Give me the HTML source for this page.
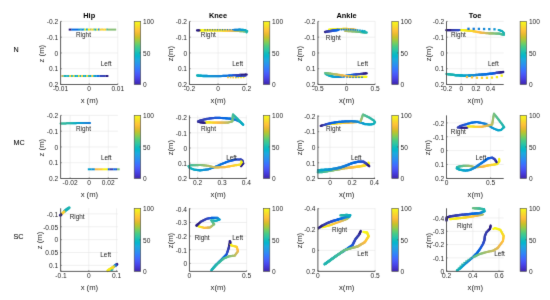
<!DOCTYPE html>
<html><head><meta charset="utf-8"><title>Figure</title>
<style>html,body{margin:0;padding:0;background:#fff;overflow:hidden;width:550px;height:300px;}svg{display:block;}</style>
</head><body>
<svg width="550" height="300" viewBox="0 0 550 300" font-family='"Liberation Sans", Arial, Helvetica, sans-serif'>
<defs><linearGradient id="cbg" x1="0" y1="0" x2="0" y2="1"><stop offset="0.00" stop-color="#f9fb15"/><stop offset="0.05" stop-color="#f5e825"/><stop offset="0.10" stop-color="#fad42e"/><stop offset="0.15" stop-color="#fec13a"/><stop offset="0.20" stop-color="#eaba30"/><stop offset="0.25" stop-color="#c8c129"/><stop offset="0.30" stop-color="#9fc942"/><stop offset="0.35" stop-color="#71cd64"/><stop offset="0.40" stop-color="#48cb86"/><stop offset="0.45" stop-color="#30c5a2"/><stop offset="0.50" stop-color="#12beb9"/><stop offset="0.55" stop-color="#04b6ce"/><stop offset="0.60" stop-color="#1caadf"/><stop offset="0.65" stop-color="#259ce7"/><stop offset="0.70" stop-color="#2d8cf3"/><stop offset="0.75" stop-color="#347afd"/><stop offset="0.80" stop-color="#4367fd"/><stop offset="0.85" stop-color="#4855f6"/><stop offset="0.90" stop-color="#4743e7"/><stop offset="0.95" stop-color="#4433cc"/><stop offset="1.00" stop-color="#3e26a8"/></linearGradient><filter id="soft" x="0" y="0" width="550" height="300" filterUnits="userSpaceOnUse" color-interpolation-filters="sRGB"><feConvolveMatrix order="3" kernelMatrix="1 10 1 10 100 10 1 10 1" edgeMode="duplicate" preserveAlpha="true"/></filter></defs>
<g filter="url(#soft)">
<rect width="550" height="300" fill="#fff"/>
<path d="M60.6 21.4V84.5M89.2 21.4V84.5M117.8 21.4V84.5M60.6 21.4H117.8M60.6 37.17H117.8M60.6 52.95H117.8M60.6 68.73H117.8M60.6 84.5H117.8" stroke="#e6e6e6" stroke-width="0.6" fill="none"/>
<path d="M189.45 21.4V84.5M218.05 21.4V84.5M246.65 21.4V84.5M189.45 21.4H246.65M189.45 37.17H246.65M189.45 52.95H246.65M189.45 68.73H246.65M189.45 84.5H246.65" stroke="#e6e6e6" stroke-width="0.6" fill="none"/>
<path d="M317.9 21.4V84.5M346.5 21.4V84.5M375.1 21.4V84.5M317.9 21.4H375.1M317.9 37.17H375.1M317.9 52.95H375.1M317.9 68.73H375.1M317.9 84.5H375.1" stroke="#e6e6e6" stroke-width="0.6" fill="none"/>
<path d="M446.5 21.4V84.5M461.23 21.4V84.5M475.97 21.4V84.5M490.7 21.4V84.5M446.5 21.4H503.7M446.5 37.17H503.7M446.5 52.95H503.7M446.5 68.73H503.7M446.5 84.5H503.7" stroke="#e6e6e6" stroke-width="0.6" fill="none"/>
<path d="M70.13 115.4V178.5M89.2 115.4V178.5M108.27 115.4V178.5M60.6 115.4H117.8M60.6 131.18H117.8M60.6 146.95H117.8M60.6 162.73H117.8M60.6 178.5H117.8" stroke="#e6e6e6" stroke-width="0.6" fill="none"/>
<path d="M197.7 115.4V178.5M222 115.4V178.5M246.3 115.4V178.5M189.45 117.7H246.65M189.45 132.85H246.65M189.45 148H246.65M189.45 163.15H246.65M189.45 178.3H246.65" stroke="#e6e6e6" stroke-width="0.6" fill="none"/>
<path d="M330 115.4V178.5M352.2 115.4V178.5M374.4 115.4V178.5M317.9 116.2H375.1M317.9 131.72H375.1M317.9 147.25H375.1M317.9 162.78H375.1M317.9 178.3H375.1" stroke="#e6e6e6" stroke-width="0.6" fill="none"/>
<path d="M446.5 115.4V178.5M490.6 115.4V178.5M446.5 122.9H503.7M446.5 136.75H503.7M446.5 150.6H503.7M446.5 164.45H503.7M446.5 178.3H503.7" stroke="#e6e6e6" stroke-width="0.6" fill="none"/>
<path d="M61 208.3V271.4M88.8 208.3V271.4M116.6 208.3V271.4M60.6 213.9H117.8M60.6 226.78H117.8M60.6 239.65H117.8M60.6 252.52H117.8M60.6 265.4H117.8" stroke="#e6e6e6" stroke-width="0.6" fill="none"/>
<path d="M189.45 208.3V271.4M246.65 208.3V271.4M189.45 208.8H246.65M189.45 222.45H246.65M189.45 236.1H246.65M189.45 249.75H246.65M189.45 263.4H246.65" stroke="#e6e6e6" stroke-width="0.6" fill="none"/>
<path d="M317.9 208.3V271.4M375.1 208.3V271.4M317.9 208.7H375.1M317.9 229.53H375.1M317.9 250.37H375.1M317.9 271.2H375.1" stroke="#e6e6e6" stroke-width="0.6" fill="none"/>
<path d="M446.7 208.3V271.4M472.85 208.3V271.4M499 208.3V271.4M446.5 218H503.7M446.5 231.3H503.7M446.5 244.6H503.7M446.5 257.9H503.7M446.5 271.2H503.7" stroke="#e6e6e6" stroke-width="0.6" fill="none"/>
<g stroke-width="2.0" fill="none"><path d="M68.7 29.6h2.9" stroke="#2a1c82"/><path d="M71.5 29.6h6.6" stroke="#036ae1"/><path d="M78 29.6h2.3" stroke="#118cd2"/><path d="M80.2 29.6h1.2" stroke="#0cadbb"/><path d="M81.3 29.6h1.8" stroke="#127cd8"/><path d="M83 29.6h1.6" stroke="#18b1b2"/><path d="M84.5 29.6h1.6" stroke="#f5e31e"/><path d="M86 29.6h1.9" stroke="#06a6c6"/><path d="M87.8 29.6h2.3" stroke="#f5ec18"/><path d="M90 29.6h1.7" stroke="#c3bc5f"/><path d="M91.6 29.6h1.8" stroke="#f5e31e"/><path d="M93.3 29.6h1.7" stroke="#7abf7c"/><path d="M94.9 29.6h1.7" stroke="#18b1b2"/><path d="M96.5 29.6h1.6" stroke="#f5e31e"/><path d="M98 29.6h1.7" stroke="#1484d4"/><path d="M99.6 29.6h1.7" stroke="#f7d826"/><path d="M101.2 29.6h1.7" stroke="#f6ba46"/><path d="M102.8 29.6h2" stroke="#f5e31e"/><path d="M104.7 29.6h1.7" stroke="#fec13a"/><path d="M106.3 29.6h1.7" stroke="#55bd8e"/><path d="M107.9 29.6h8.3" stroke="#88bf77"/></g>
<g stroke-width="2.0" fill="none"><path d="M61.4 76h2.3" stroke="#c3bc5f"/><path d="M63.6 76h3.1" stroke="#18b1b2"/><path d="M66.6 76h1.2" stroke="#06a6c6"/><path d="M67.7 76h1.8" stroke="#18b1b2"/><path d="M69.4 76h1.8" stroke="#f7d826"/><path d="M71.1 76h1.8" stroke="#18b1b2"/><path d="M72.8 76h1.8" stroke="#f7d826"/><path d="M74.5 76h1.8" stroke="#0cadbb"/><path d="M76.2 76h1.8" stroke="#06a6c6"/><path d="M77.9 76h1.8" stroke="#f5e31e"/><path d="M79.6 76h1.8" stroke="#18b1b2"/><path d="M81.3 76h1.8" stroke="#fad12b"/><path d="M83 76h1.8" stroke="#18b1b2"/><path d="M84.7 76h1.8" stroke="#07aac1"/><path d="M86.4 76h1.8" stroke="#f7d826"/><path d="M88.1 76h1.8" stroke="#18b1b2"/><path d="M89.8 76h1.8" stroke="#06a6c6"/><path d="M91.5 76h1.8" stroke="#fad12b"/><path d="M93.2 76h1.8" stroke="#0cadbb"/><path d="M94.9 76h1.8" stroke="#0d93d2"/><path d="M96.6 76h3.1" stroke="#0a72de"/><path d="M99.6 76h6.1" stroke="#3342b7"/><path d="M105.6 76h2.8" stroke="#2a1c82"/></g>
<text x="76" y="37.3" font-size="6.4" fill="#1a1a1a" text-anchor="start">Right</text>
<text x="100.8" y="65.8" font-size="6.4" fill="#1a1a1a" text-anchor="start">Left</text>
<g stroke-width="2.3" stroke-linecap="round" fill="none"><path d="M247 31.4L246 31.34" stroke="#58bd8c"/><path d="M246 31.34L245 31.29" stroke="#60be88"/><path d="M245 31.29L244 31.23" stroke="#67be85"/><path d="M244 31.23L243 31.17" stroke="#6fbf81"/><path d="M243 31.17L242 31.11" stroke="#76bf7e"/><path d="M242 31.11L241 31.06" stroke="#7dbf7b"/><path d="M241 31.06L240 31" stroke="#84bf78"/><path d="M240 31L239 30.96" stroke="#8ebf74"/><path d="M239 30.96L238 30.91" stroke="#9abf6f"/><path d="M238 30.91L237 30.87" stroke="#a5be6b"/><path d="M237 30.87L236 30.83" stroke="#b0bd67"/><path d="M236 30.83L235 30.79" stroke="#babd62"/><path d="M235 30.79L234 30.74" stroke="#c4bc5e"/><path d="M234 30.74L233 30.7" stroke="#cebb5a"/><path d="M233 30.7L232 30.68" stroke="#d8ba56"/><path d="M232 30.68L231 30.65" stroke="#e1b952"/><path d="M231 30.65L230 30.62" stroke="#ebb94d"/><path d="M230 30.62L229 30.6" stroke="#f4ba47"/><path d="M229 30.6L228 30.57" stroke="#fbbd40"/><path d="M228 30.57L227 30.55" stroke="#fec239"/><path d="M227 30.55L226 30.52" stroke="#fec833"/><path d="M226 30.52L225 30.5" stroke="#fcce2d"/><path d="M225 30.5L224 30.49" stroke="#fad22a"/><path d="M224 30.49L223 30.48" stroke="#f9d429"/><path d="M223 30.48L222 30.47" stroke="#f8d627"/><path d="M222 30.47L221 30.46" stroke="#f7d826"/><path d="M221 30.46L220 30.45" stroke="#f7db24"/><path d="M220 30.45L219 30.44" stroke="#f6dd22"/><path d="M219 30.44L218 30.43" stroke="#f5df21"/><path d="M218 30.43L217 30.42" stroke="#f5e11f"/><path d="M217 30.42L216 30.41" stroke="#f5e41d"/><path d="M216 30.41L215 30.4" stroke="#f5e61c"/><path d="M215 30.4L214 30.39" stroke="#f5e81a"/><path d="M214 30.39L213 30.38" stroke="#f5e919"/><path d="M213 30.38L212 30.37" stroke="#f5eb18"/><path d="M212 30.37L211 30.36" stroke="#f5ec17"/><path d="M211 30.36L210 30.35" stroke="#f5ee17"/><path d="M210 30.35L209 30.34" stroke="#f6ef16"/><path d="M209 30.34L208 30.33" stroke="#f6f015"/><path d="M208 30.33L207 30.32" stroke="#f6f214"/><path d="M207 30.32L206 30.31" stroke="#f7f313"/><path d="M206 30.31L205 30.3" stroke="#f7f512"/><path d="M205 30.3L204 30.3" stroke="#f7f611"/><path d="M204 30.3L203 30.3" stroke="#f8f710"/><path d="M203 30.3L202 30.3" stroke="#f8f810"/><path d="M202 30.3L201 30.3" stroke="#f8f90f"/><path d="M201 30.3L200 30.3" stroke="#f9f90f"/><path d="M200 30.3L199 30.3" stroke="#f9fa0e"/></g>
<g stroke-width="2.2" stroke-linecap="round" fill="none"><path d="M197 30.4L198.25 30.35" stroke="#2a1c82"/><path d="M198.25 30.35L199.5 30.3" stroke="#2a1c82"/></g>
<g><rect x="204.4" y="29.3" width="1.2" height="1.2" fill="#3342b7"/><rect x="206.9" y="29.28" width="1.2" height="1.2" fill="#2f46bf"/><rect x="209.4" y="29.25" width="1.2" height="1.2" fill="#2b4bc7"/><rect x="211.9" y="29.23" width="1.2" height="1.2" fill="#2450cf"/><rect x="214.4" y="29.2" width="1.2" height="1.2" fill="#1b55d7"/><rect x="216.9" y="29.17" width="1.2" height="1.2" fill="#0b5edf"/><rect x="219.4" y="29.14" width="1.2" height="1.2" fill="#0265e1"/><rect x="221.9" y="29.12" width="1.2" height="1.2" fill="#036ae1"/><rect x="224.4" y="29.09" width="1.2" height="1.2" fill="#076fdf"/><rect x="226.9" y="29.06" width="1.2" height="1.2" fill="#0c74dd"/><rect x="229.4" y="29.03" width="1.2" height="1.2" fill="#1078da"/><rect x="231.9" y="29" width="1.2" height="1.2" fill="#137dd8"/><rect x="234.4" y="29" width="1.2" height="1.2" fill="#1481d6"/><rect x="236.9" y="29" width="1.2" height="1.2" fill="#1485d4"/></g>
<g stroke-width="2.0" stroke-linecap="round" fill="none"><path d="M234 29.7L235 29.68" stroke="#1482d5"/><path d="M235 29.68L236 29.67" stroke="#1485d4"/><path d="M236 29.67L237 29.65" stroke="#1388d3"/><path d="M237 29.65L238 29.63" stroke="#128bd3"/><path d="M238 29.63L239 29.62" stroke="#108ed2"/><path d="M239 29.62L240 29.6" stroke="#0e91d2"/><path d="M240 29.6L241 29.68" stroke="#0b95d2"/><path d="M241 29.68L242 29.76" stroke="#089ad0"/><path d="M242 29.76L243 29.84" stroke="#069ece"/><path d="M243 29.84L244 29.92" stroke="#06a2cc"/><path d="M244 29.92L245 30" stroke="#06a5c8"/><path d="M245 30L246.1 30.6" stroke="#07a9c2"/><path d="M246.1 30.6L247.2 31.2" stroke="#0eaeba"/><path d="M247.2 31.2L246.5 32.5" stroke="#1db3af"/></g>
<g stroke-width="1.6" stroke-linecap="round" fill="none"><path d="M197 75.9L198 75.98" stroke="#12afb7"/><path d="M198 75.98L199 76.05" stroke="#0eaeba"/><path d="M199 76.05L200 76.12" stroke="#0bacbd"/><path d="M200 76.12L201 76.2" stroke="#08abc0"/><path d="M201 76.2L202 76.28" stroke="#07a9c2"/><path d="M202 76.28L203 76.35" stroke="#06a7c5"/><path d="M203 76.35L204 76.42" stroke="#06a6c7"/><path d="M204 76.42L205 76.5" stroke="#06a4ca"/><path d="M205 76.5L206 76.5" stroke="#06a2cb"/><path d="M206 76.5L207 76.5" stroke="#06a1cc"/><path d="M207 76.5L208 76.5" stroke="#06a0cd"/><path d="M208 76.5L209 76.5" stroke="#06a0cd"/><path d="M209 76.5L210 76.5" stroke="#069fce"/><path d="M210 76.5L211 76.5" stroke="#079ecf"/><path d="M211 76.5L212 76.5" stroke="#079dcf"/><path d="M212 76.5L213 76.5" stroke="#079cd0"/><path d="M213 76.5L214 76.5" stroke="#089ad0"/><path d="M214 76.5L215 76.5" stroke="#0899d1"/><path d="M215 76.5L216 76.47" stroke="#0998d1"/><path d="M216 76.47L217 76.44" stroke="#0a96d1"/><path d="M217 76.44L218 76.41" stroke="#0b94d2"/><path d="M218 76.41L219 76.39" stroke="#0d93d2"/><path d="M219 76.39L220 76.36" stroke="#0e91d2"/><path d="M220 76.36L221 76.33" stroke="#108fd2"/><path d="M221 76.33L222 76.3" stroke="#118dd2"/></g>
<g stroke-width="2.1" stroke-linecap="round" fill="none"><path d="M246.8 74.6L245.67 74.65" stroke="#2a1c82"/><path d="M245.67 74.65L244.53 74.7" stroke="#2a1c82"/><path d="M244.53 74.7L243.4 74.75" stroke="#2a1c82"/><path d="M243.4 74.75L242.27 74.8" stroke="#2a1c82"/><path d="M242.27 74.8L241.13 74.85" stroke="#2a1c82"/><path d="M241.13 74.85L240 74.9" stroke="#2a1c82"/><path d="M240 74.9L239 74.97" stroke="#3637a2"/><path d="M239 74.97L238 75.03" stroke="#353ba9"/><path d="M238 75.03L237 75.1" stroke="#343eaf"/><path d="M237 75.1L236 75.17" stroke="#3342b6"/><path d="M236 75.17L235 75.23" stroke="#3045bd"/><path d="M235 75.23L234 75.3" stroke="#2d49c4"/><path d="M234 75.3L233 75.37" stroke="#274ecc"/><path d="M233 75.37L232 75.44" stroke="#1e54d5"/><path d="M232 75.44L231 75.51" stroke="#125adc"/><path d="M231 75.51L230 75.59" stroke="#0860df"/><path d="M230 75.59L229 75.66" stroke="#0364e1"/><path d="M229 75.66L228 75.73" stroke="#0268e1"/><path d="M228 75.73L227 75.8" stroke="#036be0"/><path d="M227 75.8L226 75.83" stroke="#066fdf"/><path d="M226 75.83L225 75.86" stroke="#0972de"/><path d="M225 75.86L224 75.89" stroke="#0c74dd"/><path d="M224 75.89L223 75.91" stroke="#0f77db"/><path d="M223 75.91L222 75.94" stroke="#117ad9"/><path d="M222 75.94L221 75.97" stroke="#127dd8"/><path d="M221 75.97L220 76" stroke="#1480d6"/><path d="M220 76L219 76" stroke="#1482d5"/><path d="M219 76L218 76" stroke="#1483d5"/><path d="M218 76L217 76" stroke="#1484d4"/><path d="M217 76L216 76" stroke="#1486d4"/><path d="M216 76L215 76" stroke="#1487d3"/><path d="M215 76L214 76" stroke="#1388d3"/><path d="M214 76L213 76" stroke="#138ad3"/><path d="M213 76L212 76" stroke="#128bd2"/><path d="M212 76L211 76" stroke="#118dd2"/><path d="M211 76L210 76" stroke="#108fd2"/><path d="M210 76L209 75.97" stroke="#0f90d2"/><path d="M209 75.97L208 75.94" stroke="#0d92d2"/><path d="M208 75.94L207 75.91" stroke="#0c94d2"/><path d="M207 75.91L206 75.89" stroke="#0a96d1"/><path d="M206 75.89L205 75.86" stroke="#0998d1"/><path d="M205 75.86L204 75.83" stroke="#0899d1"/><path d="M204 75.83L203 75.8" stroke="#089bd0"/><path d="M203 75.8L202 75.72" stroke="#079ecf"/><path d="M202 75.72L201 75.63" stroke="#06a2cb"/><path d="M201 75.63L200 75.55" stroke="#06a6c7"/><path d="M200 75.55L199 75.47" stroke="#07a9c3"/><path d="M199 75.47L198 75.38" stroke="#0aacbe"/><path d="M198 75.38L197 75.3" stroke="#10afb8"/></g>
<g><rect x="227.15" y="76.55" width="1.7" height="1.7" fill="#fec13a"/><rect x="229.75" y="76.61" width="1.7" height="1.7" fill="#fec832"/><rect x="232.35" y="76.68" width="1.7" height="1.7" fill="#fbd02c"/><rect x="234.95" y="76.74" width="1.7" height="1.7" fill="#f8d726"/><rect x="237.55" y="76.65" width="1.7" height="1.7" fill="#f6dd22"/><rect x="240.14" y="76.55" width="1.7" height="1.7" fill="#f5e31e"/><rect x="242.74" y="76.45" width="1.7" height="1.7" fill="#f5ea19"/></g>
<g stroke-width="1.2" stroke-linecap="round" fill="none"><path d="M236 76.6L237 76.54" stroke="#0b5edf"/><path d="M237 76.54L238 76.48" stroke="#115bdc"/><path d="M238 76.48L239 76.42" stroke="#1857d8"/><path d="M239 76.42L240 76.36" stroke="#2053d4"/><path d="M240 76.36L241 76.3" stroke="#254fce"/><path d="M241 76.3L242 76.24" stroke="#2a4cc8"/><path d="M242 76.24L243 76.18" stroke="#2d48c3"/><path d="M243 76.18L244 76.12" stroke="#3045bd"/><path d="M244 76.12L245 76.06" stroke="#3342b7"/><path d="M245 76.06L246 76" stroke="#343fb1"/></g>
<text x="200.8" y="37.3" font-size="6.4" fill="#1a1a1a" text-anchor="start">Right</text>
<text x="232.3" y="65.7" font-size="6.4" fill="#1a1a1a" text-anchor="start">Left</text>
<g stroke-width="2.0" stroke-linecap="round" fill="none"><path d="M329 29.6L330 29.53" stroke="#f9fa0e"/><path d="M330 29.53L331 29.45" stroke="#f8f810"/><path d="M331 29.45L332 29.38" stroke="#f7f611"/><path d="M332 29.38L333 29.3" stroke="#f7f412"/><path d="M333 29.3L334 29.23" stroke="#f6f214"/><path d="M334 29.23L335 29.15" stroke="#f6f015"/><path d="M335 29.15L336 29.07" stroke="#f5ef16"/><path d="M336 29.07L337 29" stroke="#f5ed17"/><path d="M337 29L338 28.98" stroke="#f5ea19"/><path d="M338 28.98L339 28.95" stroke="#f5e81a"/><path d="M339 28.95L340 28.93" stroke="#f5e51c"/><path d="M340 28.93L341 28.9" stroke="#f5e31e"/><path d="M341 28.9L342 28.88" stroke="#f5e020"/><path d="M342 28.88L343 28.85" stroke="#f6de22"/><path d="M343 28.85L344 28.82" stroke="#f6db23"/><path d="M344 28.82L345 28.8" stroke="#f7d925"/><path d="M345 28.8L346 28.83" stroke="#f8d627"/><path d="M346 28.83L347 28.87" stroke="#fad32a"/><path d="M347 28.87L348 28.9" stroke="#fbd02c"/><path d="M348 28.9L349 28.93" stroke="#fccc2f"/><path d="M349 28.93L350 28.97" stroke="#fec932"/><path d="M350 28.97L351 29" stroke="#fec635"/><path d="M351 29L352 29.16" stroke="#fec238"/><path d="M352 29.16L353 29.32" stroke="#fdbe3d"/><path d="M353 29.32L354 29.48" stroke="#fabc42"/><path d="M354 29.48L355 29.64" stroke="#f5ba47"/><path d="M355 29.64L356 29.8" stroke="#efb94b"/></g>
<g stroke-width="2.0" stroke-linecap="round" fill="none"><path d="M345 31L346 31.06" stroke="#b6bd64"/><path d="M346 31.06L347 31.11" stroke="#b1bd66"/><path d="M347 31.11L348 31.17" stroke="#acbe68"/><path d="M348 31.17L349 31.23" stroke="#a7be6a"/><path d="M349 31.23L350 31.29" stroke="#a2be6c"/><path d="M350 31.29L351 31.34" stroke="#9dbf6e"/><path d="M351 31.34L352 31.4" stroke="#97bf70"/><path d="M352 31.4L353 31.47" stroke="#92bf72"/><path d="M353 31.47L354 31.54" stroke="#8cbf75"/><path d="M354 31.54L355 31.61" stroke="#87bf77"/><path d="M355 31.61L356 31.69" stroke="#81bf79"/><path d="M356 31.69L357 31.76" stroke="#7bbf7c"/><path d="M357 31.76L358 31.83" stroke="#75bf7f"/><path d="M358 31.83L359 31.9" stroke="#6ebf81"/><path d="M359 31.9L360 32.03" stroke="#67be85"/><path d="M360 32.03L361 32.16" stroke="#5ebe89"/><path d="M361 32.16L362 32.29" stroke="#56bd8d"/><path d="M362 32.29L363 32.41" stroke="#4dbc92"/><path d="M363 32.41L364 32.54" stroke="#45bb96"/><path d="M364 32.54L365 32.67" stroke="#3eba9a"/><path d="M365 32.67L366 32.8" stroke="#36b99f"/></g>
<g><rect x="336.15" y="28.85" width="1.7" height="1.7" fill="#0267e1"/><rect x="338.45" y="28.79" width="1.7" height="1.7" fill="#046ce0"/><rect x="340.75" y="28.74" width="1.7" height="1.7" fill="#0871de"/><rect x="343.05" y="28.68" width="1.7" height="1.7" fill="#0d75dc"/><rect x="345.35" y="28.67" width="1.7" height="1.7" fill="#117ada"/><rect x="347.65" y="28.7" width="1.7" height="1.7" fill="#137fd7"/><rect x="349.95" y="28.73" width="1.7" height="1.7" fill="#1483d4"/><rect x="352.24" y="28.84" width="1.7" height="1.7" fill="#1389d3"/><rect x="354.53" y="29.04" width="1.7" height="1.7" fill="#108fd2"/><rect x="356.83" y="29.24" width="1.7" height="1.7" fill="#0b95d1"/><rect x="359.11" y="29.48" width="1.7" height="1.7" fill="#079bd0"/><rect x="361.39" y="29.78" width="1.7" height="1.7" fill="#06a0cd"/><rect x="363.67" y="30.09" width="1.7" height="1.7" fill="#06a4ca"/></g>
<g stroke-width="2.5" stroke-linecap="round" fill="none"><path d="M325.1 31.9L326.4 31.7" stroke="#2a1c82"/><path d="M326.4 31.7L327.7 31.5" stroke="#3638a3"/><path d="M327.7 31.5L329 31.3" stroke="#353cab"/><path d="M329 31.3L330 31.12" stroke="#3440b3"/><path d="M330 31.12L331 30.95" stroke="#3144bb"/><path d="M331 30.95L332 30.78" stroke="#2d49c3"/><path d="M332 30.78L333 30.6" stroke="#274dcb"/><path d="M333 30.6L334 30.48" stroke="#2152d3"/><path d="M334 30.48L335 30.36" stroke="#1957d8"/><path d="M335 30.36L336 30.24" stroke="#105bdd"/><path d="M336 30.24L337 30.12" stroke="#0a5fdf"/><path d="M337 30.12L338 30" stroke="#0462e1"/></g>
<g stroke-width="2.2" stroke-linecap="round" fill="none"><path d="M362 31.4L363 31.53" stroke="#09abbf"/><path d="M363 31.53L364 31.67" stroke="#0cadbb"/><path d="M364 31.67L365 31.8" stroke="#11afb8"/><path d="M365 31.8L366.8 32.6" stroke="#1db3af"/></g>
<g stroke-width="2.2" stroke-linecap="round" fill="none"><path d="M366.8 73.3L365.67 73.42" stroke="#2a1c82"/><path d="M365.67 73.42L364.53 73.53" stroke="#2a1c82"/><path d="M364.53 73.53L363.4 73.65" stroke="#2a1c82"/><path d="M363.4 73.65L362.27 73.77" stroke="#2a1c82"/><path d="M362.27 73.77L361.13 73.88" stroke="#36369f"/><path d="M361.13 73.88L360 74" stroke="#3638a4"/><path d="M360 74L359 74.11" stroke="#353caa"/><path d="M359 74.11L358 74.23" stroke="#343fb1"/><path d="M358 74.23L357 74.34" stroke="#3243b8"/><path d="M357 74.34L356 74.46" stroke="#2f46bf"/><path d="M356 74.46L355 74.57" stroke="#2c4ac6"/><path d="M355 74.57L354 74.69" stroke="#264ecd"/><path d="M354 74.69L353 74.8" stroke="#1f53d4"/><path d="M353 74.8L352 74.94" stroke="#1658da"/><path d="M352 74.94L351 75.09" stroke="#0c5dde"/><path d="M351 75.09L350 75.23" stroke="#0462e0"/><path d="M350 75.23L349 75.37" stroke="#0266e1"/><path d="M349 75.37L348 75.51" stroke="#0269e1"/><path d="M348 75.51L347 75.66" stroke="#046ce0"/><path d="M347 75.66L346 75.8" stroke="#066edf"/><path d="M346 75.8L345 75.97" stroke="#0971de"/><path d="M345 75.97L344 76.13" stroke="#0d75dc"/><path d="M344 76.13L343 76.3" stroke="#0f78db"/><path d="M343 76.3L342 76.47" stroke="#127bd9"/><path d="M342 76.47L341 76.63" stroke="#137fd7"/><path d="M341 76.63L340 76.8" stroke="#1482d5"/><path d="M340 76.8L339 76.8" stroke="#1485d4"/><path d="M339 76.8L338 76.8" stroke="#1388d3"/><path d="M338 76.8L337 76.8" stroke="#118cd2"/><path d="M337 76.8L336 76.8" stroke="#0f90d2"/><path d="M336 76.8L335 76.8" stroke="#0c93d2"/><path d="M335 76.8L334 76.8" stroke="#0a97d1"/><path d="M334 76.8L333 76.56" stroke="#079bd0"/><path d="M333 76.56L332 76.32" stroke="#069fce"/><path d="M332 76.32L331 76.08" stroke="#06a3cb"/><path d="M331 76.08L330 75.84" stroke="#06a6c7"/><path d="M330 75.84L329 75.6" stroke="#07a9c3"/><path d="M329 75.6L327.83 75.07" stroke="#0aacbe"/><path d="M327.83 75.07L326.67 74.53" stroke="#12afb7"/><path d="M326.67 74.53L325.5 74" stroke="#1cb3b0"/></g>
<g stroke-width="2.2" stroke-linecap="round" fill="none"><path d="M325 73L326 73.12" stroke="#5abd8b"/><path d="M326 73.12L327 73.24" stroke="#64be86"/><path d="M327 73.24L328 73.36" stroke="#6fbf81"/><path d="M328 73.36L329 73.48" stroke="#79bf7d"/><path d="M329 73.48L330 73.6" stroke="#83bf79"/><path d="M330 73.6L331 73.73" stroke="#8cbf75"/><path d="M331 73.73L332 73.87" stroke="#95bf71"/><path d="M332 73.87L333 74" stroke="#9dbe6e"/><path d="M333 74L334 74.13" stroke="#a5be6b"/><path d="M334 74.13L335 74.27" stroke="#adbe68"/><path d="M335 74.27L336 74.4" stroke="#b4bd65"/><path d="M336 74.4L337 74.57" stroke="#bcbd62"/><path d="M337 74.57L338 74.73" stroke="#c3bc5f"/><path d="M338 74.73L339 74.9" stroke="#cabb5c"/><path d="M339 74.9L340 75.07" stroke="#d1bb59"/><path d="M340 75.07L341 75.23" stroke="#d8ba56"/><path d="M341 75.23L342 75.4" stroke="#dfba53"/><path d="M342 75.4L343 75.57" stroke="#e5b950"/><path d="M343 75.57L344 75.73" stroke="#ebb94d"/><path d="M344 75.73L345 75.9" stroke="#f1b94a"/><path d="M345 75.9L346 76.07" stroke="#f6ba46"/><path d="M346 76.07L347 76.23" stroke="#fbbc41"/><path d="M347 76.23L348 76.4" stroke="#febf3c"/><path d="M348 76.4L349 76.48" stroke="#ffc238"/><path d="M349 76.48L350 76.55" stroke="#fec535"/><path d="M350 76.55L351 76.62" stroke="#fec833"/><path d="M351 76.62L352 76.7" stroke="#fdcb30"/><path d="M352 76.7L353 76.78" stroke="#fcce2e"/><path d="M353 76.78L354 76.85" stroke="#fbd12b"/><path d="M354 76.85L355 76.92" stroke="#f9d429"/><path d="M355 76.92L356 77" stroke="#f8d727"/><path d="M356 77L357.05 76.98" stroke="#f7d925"/><path d="M357.05 76.98L358.1 76.96" stroke="#f6dc23"/><path d="M358.1 76.96L359.15 76.94" stroke="#f5df20"/><path d="M359.15 76.94L360.2 76.92" stroke="#f5e21e"/><path d="M360.2 76.92L361.25 76.9" stroke="#f5e61c"/><path d="M361.25 76.9L362.3 76.88" stroke="#f5e919"/><path d="M362.3 76.88L363.35 76.86" stroke="#f5ed17"/><path d="M363.35 76.86L364.4 76.84" stroke="#f6f115"/><path d="M364.4 76.84L365.45 76.82" stroke="#f7f512"/><path d="M365.45 76.82L366.5 76.8" stroke="#f8f90f"/></g>
<g><rect x="343.3" y="76.3" width="1.4" height="1.4" fill="#127cd8"/><rect x="346.3" y="76.45" width="1.4" height="1.4" fill="#1078da"/><rect x="349.29" y="76.6" width="1.4" height="1.4" fill="#0d75dc"/><rect x="352.29" y="76.69" width="1.4" height="1.4" fill="#0971de"/><rect x="355.29" y="76.67" width="1.4" height="1.4" fill="#066fdf"/><rect x="358.29" y="76.64" width="1.4" height="1.4" fill="#046ce0"/><rect x="361.29" y="76.62" width="1.4" height="1.4" fill="#0269e1"/></g>
<text x="325.8" y="40.3" font-size="6.4" fill="#1a1a1a" text-anchor="start">Right</text>
<text x="357.3" y="65.7" font-size="6.4" fill="#1a1a1a" text-anchor="start">Left</text>
<g stroke-width="2.2" stroke-linecap="round" fill="none"><path d="M504 34.8L503 34.56" stroke="#2cb6a5"/><path d="M503 34.56L502 34.32" stroke="#35b89f"/><path d="M502 34.32L501 34.08" stroke="#3fba99"/><path d="M501 34.08L500 33.84" stroke="#4abc93"/><path d="M500 33.84L499 33.6" stroke="#56bd8d"/><path d="M499 33.6L498 33.58" stroke="#60be88"/><path d="M498 33.58L497 33.56" stroke="#67be85"/><path d="M497 33.56L496 33.53" stroke="#6fbf81"/><path d="M496 33.53L495 33.51" stroke="#76bf7e"/><path d="M495 33.51L494 33.49" stroke="#7dbf7b"/><path d="M494 33.49L493 33.47" stroke="#84bf78"/><path d="M493 33.47L492 33.44" stroke="#8bbf75"/><path d="M492 33.44L491 33.42" stroke="#92bf73"/><path d="M491 33.42L490 33.4" stroke="#98bf70"/><path d="M490 33.4L489 33.32" stroke="#a1be6d"/><path d="M489 33.32L488 33.25" stroke="#acbe68"/><path d="M488 33.25L487 33.17" stroke="#b6bd64"/><path d="M487 33.17L486 33.1" stroke="#c1bc60"/><path d="M486 33.1L485 33.02" stroke="#cbbb5c"/><path d="M485 33.02L484 32.95" stroke="#d4bb58"/><path d="M484 32.95L483 32.88" stroke="#deba53"/><path d="M483 32.88L482 32.8" stroke="#e8b94f"/><path d="M482 32.8L481 32.62" stroke="#efb94b"/><path d="M481 32.62L480 32.44" stroke="#f4ba48"/><path d="M480 32.44L479 32.26" stroke="#f8ba44"/><path d="M479 32.26L478 32.08" stroke="#fbbd40"/><path d="M478 32.08L477 31.9" stroke="#febf3c"/><path d="M477 31.9L476 31.72" stroke="#ffc238"/><path d="M476 31.72L475 31.54" stroke="#fec635"/><path d="M475 31.54L474 31.36" stroke="#fec932"/><path d="M474 31.36L473 31.18" stroke="#fccc2f"/><path d="M473 31.18L472 31" stroke="#fbd02c"/><path d="M472 31L471 30.9" stroke="#fad32a"/><path d="M471 30.9L470 30.8" stroke="#f8d628"/><path d="M470 30.8L469 30.7" stroke="#f7d925"/><path d="M469 30.7L468 30.6" stroke="#f6dc23"/><path d="M468 30.6L467 30.5" stroke="#f5df21"/><path d="M467 30.5L466 30.4" stroke="#f5e21e"/><path d="M466 30.4L465 30.3" stroke="#f5e61c"/><path d="M465 30.3L464 30.24" stroke="#f5e919"/><path d="M464 30.24L463 30.18" stroke="#f5ed17"/><path d="M463 30.18L462 30.12" stroke="#f6f115"/><path d="M462 30.12L461 30.06" stroke="#f7f512"/><path d="M461 30.06L460 30" stroke="#f8f90f"/></g>
<g stroke-width="2.2" stroke-linecap="round" fill="none"><path d="M446.2 30.2L447.36 30.2" stroke="#2a1c82"/><path d="M447.36 30.2L448.52 30.2" stroke="#2a1c82"/><path d="M448.52 30.2L449.68 30.2" stroke="#2a1c82"/><path d="M449.68 30.2L450.84 30.2" stroke="#2a1c82"/><path d="M450.84 30.2L452 30.2" stroke="#2a1c82"/><path d="M452 30.2L453.07 30.17" stroke="#3637a1"/><path d="M453.07 30.17L454.14 30.14" stroke="#363aa7"/><path d="M454.14 30.14L455.21 30.11" stroke="#353dad"/><path d="M455.21 30.11L456.29 30.09" stroke="#3440b3"/><path d="M456.29 30.09L457.36 30.06" stroke="#3243b9"/><path d="M457.36 30.06L458.43 30.03" stroke="#3046be"/><path d="M458.43 30.03L459.5 30" stroke="#2d49c4"/></g>
<g><rect x="467.35" y="27.65" width="2.3" height="2.3" fill="#0a72de"/><rect x="472.55" y="27.7" width="2.3" height="2.3" fill="#1079da"/><rect x="477.75" y="27.74" width="2.3" height="2.3" fill="#1480d6"/><rect x="482.95" y="27.86" width="2.3" height="2.3" fill="#1485d4"/><rect x="488.15" y="28.01" width="2.3" height="2.3" fill="#128cd2"/><rect x="493.34" y="28.15" width="2.3" height="2.3" fill="#0d93d2"/></g>
<g stroke-width="2.0" stroke-linecap="round" fill="none"><path d="M498.5 30L499.67 30.33" stroke="#06a5c9"/><path d="M499.67 30.33L500.83 30.67" stroke="#06a8c4"/><path d="M500.83 30.67L502 31" stroke="#09acbe"/><path d="M502 31L503 32" stroke="#10afb9"/><path d="M503 32L504 33" stroke="#18b1b2"/><path d="M504 33L504 34.5" stroke="#22b4ac"/></g>
<g stroke-width="2.4" stroke-linecap="round" fill="none"><path d="M503.2 72L502.16 72.12" stroke="#2a1c82"/><path d="M502.16 72.12L501.12 72.24" stroke="#2a1c82"/><path d="M501.12 72.24L500.08 72.36" stroke="#2a1c82"/><path d="M500.08 72.36L499.04 72.48" stroke="#2a1c82"/><path d="M499.04 72.48L498 72.6" stroke="#3638a3"/><path d="M498 72.6L497 72.77" stroke="#353cac"/><path d="M497 72.77L496 72.93" stroke="#3342b7"/><path d="M496 72.93L495 73.1" stroke="#2e48c2"/><path d="M495 73.1L494 73.27" stroke="#264ecd"/><path d="M494 73.27L493 73.43" stroke="#1b55d7"/><path d="M493 73.43L492 73.6" stroke="#0d5dde"/><path d="M492 73.6L491 73.7" stroke="#0661e0"/><path d="M491 73.7L490 73.8" stroke="#0364e1"/><path d="M490 73.8L489 73.9" stroke="#0266e1"/><path d="M489 73.9L488 74" stroke="#0268e1"/><path d="M488 74L487 74.1" stroke="#036ae1"/><path d="M487 74.1L486 74.2" stroke="#046ce0"/><path d="M486 74.2L485 74.28" stroke="#066edf"/><path d="M485 74.28L484 74.36" stroke="#0870df"/><path d="M484 74.36L483 74.44" stroke="#0a72de"/><path d="M483 74.44L482 74.52" stroke="#0c74dd"/><path d="M482 74.52L481 74.6" stroke="#0e76dc"/><path d="M481 74.6L480 74.68" stroke="#1078da"/><path d="M480 74.68L479 74.76" stroke="#117ad9"/><path d="M479 74.76L478 74.84" stroke="#127cd8"/><path d="M478 74.84L477 74.92" stroke="#137ed7"/><path d="M477 74.92L476 75" stroke="#1480d6"/><path d="M476 75L475 75.08" stroke="#1482d5"/><path d="M475 75.08L474 75.16" stroke="#1485d4"/><path d="M474 75.16L473 75.24" stroke="#1388d3"/><path d="M473 75.24L472 75.32" stroke="#128bd3"/><path d="M472 75.32L471 75.4" stroke="#108ed2"/><path d="M471 75.4L470 75.48" stroke="#0e91d2"/><path d="M470 75.48L469 75.56" stroke="#0c94d2"/><path d="M469 75.56L468 75.64" stroke="#0997d1"/><path d="M468 75.64L467 75.72" stroke="#089ad0"/><path d="M467 75.72L466 75.8" stroke="#079dcf"/><path d="M466 75.8L465 75.74" stroke="#069fce"/><path d="M465 75.74L464 75.68" stroke="#06a1cc"/><path d="M464 75.68L463 75.62" stroke="#06a3cb"/><path d="M463 75.62L462 75.56" stroke="#06a4c9"/><path d="M462 75.56L461 75.5" stroke="#06a6c7"/><path d="M461 75.5L460 75.44" stroke="#06a7c5"/><path d="M460 75.44L459 75.38" stroke="#07a9c3"/><path d="M459 75.38L458 75.32" stroke="#07aac1"/><path d="M458 75.32L457 75.26" stroke="#09abbf"/><path d="M457 75.26L456 75.2" stroke="#0bacbd"/><path d="M456 75.2L454.94 75.07" stroke="#0daebb"/><path d="M454.94 75.07L453.89 74.93" stroke="#10afb9"/><path d="M453.89 74.93L452.83 74.8" stroke="#12b0b6"/><path d="M452.83 74.8L451.78 74.67" stroke="#15b1b4"/><path d="M451.78 74.67L450.72 74.53" stroke="#18b1b2"/><path d="M450.72 74.53L449.67 74.4" stroke="#1bb2b0"/><path d="M449.67 74.4L448.61 74.27" stroke="#1eb3ae"/><path d="M448.61 74.27L447.56 74.13" stroke="#22b4ac"/><path d="M447.56 74.13L446.5 74" stroke="#25b5a9"/></g>
<g><rect x="465.85" y="75.85" width="2.3" height="2.3" fill="#f6ba46"/><rect x="470.84" y="76.21" width="2.3" height="2.3" fill="#fec03b"/><rect x="475.82" y="76.58" width="2.3" height="2.3" fill="#fec932"/><rect x="480.82" y="76.65" width="2.3" height="2.3" fill="#fad12b"/><rect x="485.82" y="76.65" width="2.3" height="2.3" fill="#f7da24"/><rect x="490.81" y="76.45" width="2.3" height="2.3" fill="#f5e31e"/><rect x="495.79" y="75.96" width="2.3" height="2.3" fill="#f5ee16"/><rect x="500.54" y="74.51" width="2.3" height="2.3" fill="#f8f710"/></g>
<text x="450.9" y="37.3" font-size="6.4" fill="#1a1a1a" text-anchor="start">Right</text>
<text x="488" y="65.7" font-size="6.4" fill="#1a1a1a" text-anchor="start">Left</text>
<g stroke-width="2.0" stroke-linecap="round" fill="none"><path d="M60.5 123.5L61.56 123.48" stroke="#3eba9a"/><path d="M61.56 123.48L62.61 123.46" stroke="#3bb99c"/><path d="M62.61 123.46L63.67 123.43" stroke="#38b99e"/><path d="M63.67 123.43L64.72 123.41" stroke="#35b89f"/><path d="M64.72 123.41L65.78 123.39" stroke="#33b8a1"/><path d="M65.78 123.39L66.83 123.37" stroke="#30b7a3"/><path d="M66.83 123.37L67.89 123.34" stroke="#2db7a4"/><path d="M67.89 123.34L68.94 123.32" stroke="#2bb6a6"/><path d="M68.94 123.32L70 123.3" stroke="#28b6a7"/><path d="M70 123.3L71 123.27" stroke="#24b5aa"/><path d="M71 123.27L72 123.25" stroke="#1db3af"/><path d="M72 123.25L73 123.22" stroke="#18b1b3"/><path d="M73 123.22L74 123.2" stroke="#12afb7"/><path d="M74 123.2L75 123.17" stroke="#0daeba"/><path d="M75 123.17L76 123.15" stroke="#0aacbe"/><path d="M76 123.15L77 123.12" stroke="#07aac1"/><path d="M77 123.12L78 123.1" stroke="#06a8c5"/><path d="M78 123.1L79 123.08" stroke="#06a5c8"/><path d="M79 123.08L80 123.07" stroke="#06a2cc"/><path d="M80 123.07L81 123.05" stroke="#079ecf"/><path d="M81 123.05L82 123.03" stroke="#0899d1"/><path d="M82 123.03L83 123.02" stroke="#0c94d2"/><path d="M83 123.02L84 123" stroke="#108fd2"/><path d="M84 123L85.02 122.98" stroke="#128bd3"/><path d="M85.02 122.98L86.03 122.97" stroke="#1388d3"/><path d="M86.03 122.97L87.05 122.95" stroke="#1485d4"/><path d="M87.05 122.95L88.07 122.93" stroke="#1482d5"/><path d="M88.07 122.93L89.08 122.92" stroke="#1480d6"/><path d="M89.08 122.92L90.1 122.9" stroke="#137dd8"/></g>
<g stroke-width="2.0" fill="none"><path d="M87.8 169.3h3.6" stroke="#06a0cd"/><path d="M91.3 169.3h3.6" stroke="#118cd2"/><path d="M94.8 169.3h4.1" stroke="#f6ba46"/><path d="M98.8 169.3h4.1" stroke="#fdcb30"/><path d="M102.8 169.3h5.1" stroke="#f6f115"/><path d="M107.8 169.3h1.6" stroke="#036ae1"/><path d="M109.3 169.3h4.1" stroke="#353eaf"/><path d="M113.3 169.3h2.6" stroke="#036ae1"/><path d="M115.8 169.3h1.3" stroke="#2b4bc7"/><path d="M117 169.3h2.7" stroke="#7abf7c"/></g>
<text x="76" y="131.3" font-size="6.4" fill="#1a1a1a" text-anchor="start">Right</text>
<text x="100.9" y="159.8" font-size="6.4" fill="#1a1a1a" text-anchor="start">Left</text>
<g stroke-width="2.2" stroke-linecap="round" fill="none"><path d="M205.5 122.9L204.38 122.78" stroke="#2a1c82"/><path d="M204.38 122.78L203.25 122.65" stroke="#2a1c82"/><path d="M203.25 122.65L202.12 122.53" stroke="#2a1c82"/><path d="M202.12 122.53L201 122.4" stroke="#2a1c82"/><path d="M201 122.4L200 122.13" stroke="#2a1c82"/><path d="M200 122.13L199 121.87" stroke="#2a1c82"/><path d="M199 121.87L198 121.6" stroke="#2a1c82"/><path d="M198 121.6L199 121.1" stroke="#3637a0"/><path d="M199 121.1L200 120.6" stroke="#3639a5"/><path d="M200 120.6L201 120.34" stroke="#353ba8"/><path d="M201 120.34L202 120.08" stroke="#353cab"/><path d="M202 120.08L203 119.82" stroke="#353eaf"/><path d="M203 119.82L204 119.56" stroke="#343fb2"/><path d="M204 119.56L205 119.3" stroke="#3341b5"/><path d="M205 119.3L206 119.12" stroke="#3243b8"/><path d="M206 119.12L207 118.94" stroke="#3145bc"/><path d="M207 118.94L208 118.76" stroke="#2f46bf"/><path d="M208 118.76L209 118.58" stroke="#2e48c2"/><path d="M209 118.58L210 118.4" stroke="#2c4ac6"/><path d="M210 118.4L211 118.3" stroke="#2a4cc9"/><path d="M211 118.3L212 118.2" stroke="#274dcb"/><path d="M212 118.2L213 118.1" stroke="#254fce"/><path d="M213 118.1L214 118" stroke="#2351d1"/><path d="M214 118L215 117.9" stroke="#2053d4"/><path d="M215 117.9L216 117.8" stroke="#1d54d6"/><path d="M216 117.8L217 117.84" stroke="#1956d8"/><path d="M217 117.84L218 117.88" stroke="#1559da"/><path d="M218 117.88L219 117.91" stroke="#115bdc"/><path d="M219 117.91L220 117.95" stroke="#0e5dde"/><path d="M220 117.95L221 117.99" stroke="#0b5edf"/><path d="M221 117.99L222 118.02" stroke="#0860e0"/><path d="M222 118.02L223 118.06" stroke="#0562e0"/><path d="M223 118.06L224 118.1" stroke="#0363e1"/><path d="M224 118.1L225 118.2" stroke="#0265e1"/><path d="M225 118.2L226 118.3" stroke="#0267e1"/><path d="M226 118.3L227 118.4" stroke="#0269e1"/><path d="M227 118.4L228 118.5" stroke="#036ae1"/><path d="M228 118.5L229 118.6" stroke="#046ce0"/><path d="M229 118.6L230 118.7" stroke="#056de0"/><path d="M230 118.7L231 118.8" stroke="#066fdf"/><path d="M231 118.8L232 119.02" stroke="#0871de"/><path d="M232 119.02L233 119.24" stroke="#0b74dd"/><path d="M233 119.24L234 119.46" stroke="#0e76dc"/><path d="M234 119.46L235 119.68" stroke="#1078da"/><path d="M235 119.68L236 119.9" stroke="#117bd9"/><path d="M236 119.9L237 120.38" stroke="#137ed7"/><path d="M237 120.38L238 120.85" stroke="#1482d5"/><path d="M238 120.85L239 121.33" stroke="#1486d4"/><path d="M239 121.33L240 121.8" stroke="#138ad3"/><path d="M240 121.8L240.8 122.55" stroke="#0f90d2"/><path d="M240.8 122.55L241.6 123.3" stroke="#0998d1"/><path d="M241.6 123.3L242.4 124.05" stroke="#069fce"/><path d="M242.4 124.05L243.2 124.8" stroke="#06a4c9"/><path d="M243.2 124.8L242.46 124.04" stroke="#06a7c5"/><path d="M242.46 124.04L241.71 123.29" stroke="#07a9c2"/><path d="M241.71 123.29L240.97 122.53" stroke="#08abc0"/><path d="M240.97 122.53L240.23 121.77" stroke="#0bacbd"/><path d="M240.23 121.77L239.49 121.01" stroke="#0eaeba"/><path d="M239.49 121.01L238.74 120.26" stroke="#12afb7"/><path d="M238.74 120.26L238 119.5" stroke="#16b1b4"/><path d="M238 119.5L237.29 118.79" stroke="#1ab2b1"/><path d="M237.29 118.79L236.57 118.07" stroke="#1db3af"/><path d="M236.57 118.07L235.86 117.36" stroke="#21b4ac"/><path d="M235.86 117.36L235.14 116.64" stroke="#24b5aa"/><path d="M235.14 116.64L234.43 115.93" stroke="#28b6a7"/><path d="M234.43 115.93L233.71 115.21" stroke="#2cb7a5"/><path d="M233.71 115.21L233 114.5" stroke="#31b8a2"/><path d="M233 114.5L232.87 115.67" stroke="#38b99e"/><path d="M232.87 115.67L232.73 116.83" stroke="#43bb97"/><path d="M232.73 116.83L232.6 118" stroke="#4fbc91"/><path d="M232.6 118L232.53 119.1" stroke="#5cbe8a"/><path d="M232.53 119.1L232.47 120.2" stroke="#6bbf83"/><path d="M232.47 120.2L232.4 121.3" stroke="#7abf7c"/><path d="M232.4 121.3L231.3 121.62" stroke="#89bf76"/><path d="M231.3 121.62L230.2 121.95" stroke="#97bf70"/><path d="M230.2 121.95L229.1 122.27" stroke="#a5be6b"/><path d="M229.1 122.27L228 122.6" stroke="#b2bd66"/><path d="M228 122.6L227 122.61" stroke="#bbbd62"/><path d="M227 122.61L226 122.62" stroke="#c2bc5f"/><path d="M226 122.62L225 122.64" stroke="#c9bc5c"/><path d="M225 122.64L224 122.65" stroke="#d0bb5a"/><path d="M224 122.65L223 122.66" stroke="#d6ba57"/><path d="M223 122.66L222 122.67" stroke="#dcba54"/><path d="M222 122.67L221 122.69" stroke="#e3b951"/><path d="M221 122.69L220 122.7" stroke="#e9b94e"/><path d="M220 122.7L219 122.67" stroke="#efb94b"/><path d="M219 122.67L218 122.65" stroke="#f5ba46"/><path d="M218 122.65L217 122.62" stroke="#fabc42"/><path d="M217 122.62L216 122.6" stroke="#febf3c"/><path d="M216 122.6L215 122.58" stroke="#ffc338"/><path d="M215 122.58L214 122.55" stroke="#fec734"/><path d="M214 122.55L213 122.53" stroke="#fdcb30"/><path d="M213 122.53L212 122.5" stroke="#fbcf2c"/><path d="M212 122.5L210.97 122.48" stroke="#f9d429"/><path d="M210.97 122.48L209.93 122.47" stroke="#f7d826"/><path d="M209.93 122.47L208.9 122.45" stroke="#f6dd22"/><path d="M208.9 122.45L207.87 122.43" stroke="#f5e21e"/><path d="M207.87 122.43L206.83 122.42" stroke="#f5e71b"/><path d="M206.83 122.42L205.8 122.4" stroke="#f5ed17"/></g>
<g stroke-width="1.8" stroke-linecap="round" fill="none"><path d="M202.5 122.3L203.65 122.55" stroke="#2a1c82"/><path d="M203.65 122.55L204.8 122.8" stroke="#2a1c82"/></g>
<g stroke-width="2.1" stroke-linecap="round" fill="none"><path d="M241 166.3L241.77 165.37" stroke="#2a1c82"/><path d="M241.77 165.37L242.53 164.43" stroke="#2a1c82"/><path d="M242.53 164.43L243.3 163.5" stroke="#2a1c82"/><path d="M243.3 163.5L243.03 162.5" stroke="#2a1c82"/><path d="M243.03 162.5L242.77 161.5" stroke="#36369f"/><path d="M242.77 161.5L242.5 160.5" stroke="#3638a4"/><path d="M242.5 160.5L241.6 159.95" stroke="#353cab"/><path d="M241.6 159.95L240.7 159.4" stroke="#3440b3"/><path d="M240.7 159.4L239.62 159.44" stroke="#3243b9"/><path d="M239.62 159.44L238.54 159.48" stroke="#3046be"/><path d="M238.54 159.48L237.46 159.52" stroke="#2d49c3"/><path d="M237.46 159.52L236.38 159.56" stroke="#2a4bc8"/><path d="M236.38 159.56L235.3 159.6" stroke="#264ecd"/><path d="M235.3 159.6L234.26 159.87" stroke="#2251d2"/><path d="M234.26 159.87L233.21 160.14" stroke="#1c55d6"/><path d="M233.21 160.14L232.17 160.41" stroke="#1658d9"/><path d="M232.17 160.41L231.13 160.69" stroke="#105bdd"/><path d="M231.13 160.69L230.09 160.96" stroke="#0c5ede"/><path d="M230.09 160.96L229.04 161.23" stroke="#0760e0"/><path d="M229.04 161.23L228 161.5" stroke="#0363e1"/><path d="M228 161.5L227 161.9" stroke="#0265e1"/><path d="M227 161.9L226 162.3" stroke="#0267e1"/><path d="M226 162.3L225 162.7" stroke="#0269e1"/><path d="M225 162.7L224 163.1" stroke="#036ae1"/><path d="M224 163.1L223 163.5" stroke="#046ce0"/><path d="M223 163.5L222 163.9" stroke="#056de0"/><path d="M222 163.9L221 164.3" stroke="#066fdf"/><path d="M221 164.3L220 164.75" stroke="#0871de"/><path d="M220 164.75L219 165.2" stroke="#0b73dd"/><path d="M219 165.2L218 165.65" stroke="#0d75dc"/><path d="M218 165.65L217 166.1" stroke="#0f77db"/><path d="M217 166.1L216 166.55" stroke="#1079da"/><path d="M216 166.55L215 167" stroke="#117bd9"/><path d="M215 167L214 167.34" stroke="#137dd8"/><path d="M214 167.34L213 167.69" stroke="#137fd7"/><path d="M213 167.69L212 168.03" stroke="#1480d6"/><path d="M212 168.03L211 168.37" stroke="#1482d5"/><path d="M211 168.37L210 168.71" stroke="#1484d4"/><path d="M210 168.71L209 169.06" stroke="#1486d4"/><path d="M209 169.06L208 169.4" stroke="#1388d3"/><path d="M208 169.4L207 169.53" stroke="#138ad3"/><path d="M207 169.53L206 169.65" stroke="#118cd2"/><path d="M206 169.65L205 169.78" stroke="#108ed2"/><path d="M205 169.78L204 169.9" stroke="#0f90d2"/><path d="M204 169.9L203 170.03" stroke="#0d92d2"/><path d="M203 170.03L202 170.15" stroke="#0c94d2"/><path d="M202 170.15L201 170.28" stroke="#0a96d1"/><path d="M201 170.28L200 170.4" stroke="#0998d1"/><path d="M200 170.4L199 170.27" stroke="#089ad0"/><path d="M199 170.27L198 170.13" stroke="#079dcf"/><path d="M198 170.13L197 170" stroke="#069fce"/><path d="M197 170L196 169.87" stroke="#06a2cc"/><path d="M196 169.87L195 169.73" stroke="#06a4ca"/><path d="M195 169.73L194 169.6" stroke="#06a6c7"/><path d="M194 169.6L192.88 169.15" stroke="#06a8c4"/><path d="M192.88 169.15L191.75 168.7" stroke="#08aac0"/><path d="M191.75 168.7L190.62 168.25" stroke="#0badbc"/><path d="M190.62 168.25L189.5 167.8" stroke="#11afb8"/><path d="M189.5 167.8L188.5 166.2" stroke="#1db3af"/><path d="M188.5 166.2L189.75 165.75" stroke="#2db7a5"/><path d="M189.75 165.75L191 165.3" stroke="#39b99d"/><path d="M191 165.3L192 165.27" stroke="#42bb98"/><path d="M192 165.27L193 165.24" stroke="#48bb95"/><path d="M193 165.24L194 165.21" stroke="#4dbc92"/><path d="M194 165.21L195 165.18" stroke="#53bd8e"/><path d="M195 165.18L196 165.15" stroke="#59bd8b"/><path d="M196 165.15L197 165.12" stroke="#5fbe88"/><path d="M197 165.12L198 165.09" stroke="#65be86"/><path d="M198 165.09L199 165.06" stroke="#6bbf83"/><path d="M199 165.06L200 165.03" stroke="#71bf80"/><path d="M200 165.03L201 165" stroke="#77bf7e"/><path d="M201 165L202 165.11" stroke="#7dbf7b"/><path d="M202 165.11L203 165.23" stroke="#84bf78"/><path d="M203 165.23L204 165.34" stroke="#8bbf75"/><path d="M204 165.34L205 165.46" stroke="#92bf73"/><path d="M205 165.46L206 165.57" stroke="#98bf70"/><path d="M206 165.57L207 165.69" stroke="#9ebe6e"/><path d="M207 165.69L208 165.8" stroke="#a4be6b"/><path d="M208 165.8L209 166.04" stroke="#aabe69"/><path d="M209 166.04L210 166.29" stroke="#b0bd67"/><path d="M210 166.29L211 166.53" stroke="#b5bd64"/><path d="M211 166.53L212 166.77" stroke="#bbbd62"/><path d="M212 166.77L213 167.01" stroke="#c0bc60"/><path d="M213 167.01L214 167.26" stroke="#c6bc5e"/><path d="M214 167.26L215 167.5" stroke="#cbbb5c"/><path d="M215 167.5L216 167.46" stroke="#d0bb5a"/><path d="M216 167.46L217 167.42" stroke="#d4bb58"/><path d="M217 167.42L218 167.38" stroke="#d8ba56"/><path d="M218 167.38L219 167.34" stroke="#dcba54"/><path d="M219 167.34L220 167.3" stroke="#e0ba52"/><path d="M220 167.3L221 167.26" stroke="#e4b950"/><path d="M221 167.26L222 167.22" stroke="#e8b94f"/><path d="M222 167.22L223 167.18" stroke="#ecb94c"/><path d="M223 167.18L224 167.14" stroke="#f0b94a"/><path d="M224 167.14L225 167.1" stroke="#f4ba47"/><path d="M225 167.1L226.03 166.92" stroke="#f8ba44"/><path d="M226.03 166.92L227.06 166.74" stroke="#fabc41"/><path d="M227.06 166.74L228.09 166.56" stroke="#fdbe3e"/><path d="M228.09 166.56L229.12 166.38" stroke="#fec03b"/><path d="M229.12 166.38L230.15 166.2" stroke="#ffc338"/><path d="M230.15 166.2L231.18 166.02" stroke="#fec535"/><path d="M231.18 166.02L232.21 165.84" stroke="#fec832"/><path d="M232.21 165.84L233.24 165.66" stroke="#fdcb30"/><path d="M233.24 165.66L234.27 165.48" stroke="#fccd2e"/><path d="M234.27 165.48L235.3 165.3" stroke="#fbd02c"/><path d="M235.3 165.3L236.48 165.15" stroke="#fad32a"/><path d="M236.48 165.15L237.65 165" stroke="#f8d627"/><path d="M237.65 165L238.82 164.85" stroke="#f7da24"/><path d="M238.82 164.85L240 164.7" stroke="#f6dd22"/><path d="M240 164.7L240.85 163.5" stroke="#f5e31e"/><path d="M240.85 163.5L241.7 162.3" stroke="#f5ec18"/><path d="M241.7 162.3L241.2 161.3" stroke="#f7f611"/></g>
<text x="201" y="131.4" font-size="6.4" fill="#1a1a1a" text-anchor="start">Right</text>
<text x="226.2" y="159.8" font-size="6.4" fill="#1a1a1a" text-anchor="start">Left</text>
<g stroke-width="2.0" stroke-linecap="round" fill="none"><path d="M360.5 121.6L359.4 121.74" stroke="#c6bc5e"/><path d="M359.4 121.74L358.3 121.88" stroke="#ccbb5b"/><path d="M358.3 121.88L357.2 122.02" stroke="#d3bb58"/><path d="M357.2 122.02L356.1 122.16" stroke="#d9ba56"/><path d="M356.1 122.16L355 122.3" stroke="#dfba53"/><path d="M355 122.3L354 122.36" stroke="#e4b950"/><path d="M354 122.36L353 122.41" stroke="#e9b94e"/><path d="M353 122.41L352 122.47" stroke="#edb94c"/><path d="M352 122.47L351 122.53" stroke="#f1b949"/><path d="M351 122.53L350 122.59" stroke="#f5ba46"/><path d="M350 122.59L349 122.64" stroke="#f9bb43"/><path d="M349 122.64L348 122.7" stroke="#fcbd40"/><path d="M348 122.7L347 122.76" stroke="#febf3c"/><path d="M347 122.76L346 122.83" stroke="#fec139"/><path d="M346 122.83L345 122.89" stroke="#ffc437"/><path d="M345 122.89L344 122.95" stroke="#fec634"/><path d="M344 122.95L343 123.01" stroke="#fec932"/><path d="M343 123.01L342 123.08" stroke="#fdcb30"/><path d="M342 123.08L341 123.14" stroke="#fcce2e"/><path d="M341 123.14L340 123.2" stroke="#fbd02c"/><path d="M340 123.2L339 123.28" stroke="#fad22a"/><path d="M339 123.28L338 123.35" stroke="#f9d428"/><path d="M338 123.35L337 123.42" stroke="#f8d727"/><path d="M337 123.42L336 123.5" stroke="#f7d925"/><path d="M336 123.5L335 123.58" stroke="#f6db24"/><path d="M335 123.58L334 123.65" stroke="#f6dd22"/><path d="M334 123.65L333 123.72" stroke="#f5e020"/><path d="M333 123.72L332 123.8" stroke="#f5e21e"/><path d="M332 123.8L331 123.93" stroke="#f5e51d"/><path d="M331 123.93L330 124.07" stroke="#f5e71b"/><path d="M330 124.07L329 124.2" stroke="#f5ea19"/><path d="M329 124.2L328 124.33" stroke="#f5ed17"/><path d="M328 124.33L327 124.47" stroke="#f6f115"/><path d="M327 124.47L326 124.6" stroke="#f7f412"/></g>
<g stroke-width="2.2" stroke-linecap="round" fill="none"><path d="M320.7 125.9L321.76 125.6" stroke="#2a1c82"/><path d="M321.76 125.6L322.82 125.3" stroke="#2a1c82"/><path d="M322.82 125.3L323.88 125" stroke="#3638a3"/><path d="M323.88 125L324.94 124.7" stroke="#353dae"/><path d="M324.94 124.7L326 124.4" stroke="#3243b9"/><path d="M326 124.4L327 124.14" stroke="#2e48c2"/><path d="M327 124.14L328 123.88" stroke="#2a4cc9"/><path d="M328 123.88L329 123.62" stroke="#2450cf"/><path d="M329 123.62L330 123.36" stroke="#1d54d5"/><path d="M330 123.36L331 123.1" stroke="#1559da"/><path d="M331 123.1L332 122.93" stroke="#0d5dde"/><path d="M332 122.93L333 122.77" stroke="#0860df"/><path d="M333 122.77L334 122.6" stroke="#0363e1"/><path d="M334 122.6L335 122.43" stroke="#0265e1"/><path d="M335 122.43L336 122.27" stroke="#0267e1"/><path d="M336 122.27L337 122.1" stroke="#0269e1"/><path d="M337 122.1L338 122.01" stroke="#036be0"/><path d="M338 122.01L339 121.92" stroke="#046ce0"/><path d="M339 121.92L340 121.84" stroke="#056ee0"/><path d="M340 121.84L341 121.75" stroke="#076fdf"/><path d="M341 121.75L342 121.66" stroke="#0870df"/><path d="M342 121.66L343 121.58" stroke="#0972de"/><path d="M343 121.58L344 121.49" stroke="#0b73dd"/><path d="M344 121.49L345 121.4" stroke="#0c74dd"/><path d="M345 121.4L346 121.37" stroke="#0d76dc"/><path d="M346 121.37L347 121.34" stroke="#0e77db"/><path d="M347 121.34L348 121.31" stroke="#1078da"/><path d="M348 121.31L349 121.29" stroke="#117ada"/><path d="M349 121.29L350 121.26" stroke="#117bd9"/><path d="M350 121.26L351 121.23" stroke="#127cd8"/><path d="M351 121.23L352 121.2" stroke="#137ed7"/><path d="M352 121.2L353 121.28" stroke="#1380d6"/><path d="M353 121.28L354 121.36" stroke="#1482d5"/><path d="M354 121.36L355 121.44" stroke="#1484d4"/><path d="M355 121.44L356 121.52" stroke="#1486d4"/><path d="M356 121.52L357 121.6" stroke="#1388d3"/><path d="M357 121.6L358 121.88" stroke="#128ad3"/><path d="M358 121.88L359 122.15" stroke="#118dd2"/><path d="M359 122.15L360 122.42" stroke="#108fd2"/><path d="M360 122.42L361 122.7" stroke="#0e91d2"/><path d="M361 122.7L362 123.05" stroke="#0b95d2"/><path d="M362 123.05L363 123.4" stroke="#0998d1"/><path d="M363 123.4L364 123.75" stroke="#079cd0"/><path d="M364 123.75L365 124.1" stroke="#069fce"/><path d="M365 124.1L366 124.18" stroke="#06a1cc"/><path d="M366 124.18L367 124.26" stroke="#06a2cb"/><path d="M367 124.26L368 124.34" stroke="#06a4ca"/><path d="M368 124.34L369 124.42" stroke="#06a5c8"/><path d="M369 124.42L370 124.5" stroke="#06a6c7"/><path d="M370 124.5L371.17 124.33" stroke="#06a7c5"/><path d="M371.17 124.33L372.33 124.17" stroke="#07a9c2"/><path d="M372.33 124.17L373.5 124" stroke="#08abc0"/><path d="M373.5 124L374.25 123.1" stroke="#0badbc"/><path d="M374.25 123.1L375 122.2" stroke="#11afb8"/><path d="M375 122.2L374 120.6" stroke="#18b1b2"/><path d="M374 120.6L373 119.96" stroke="#1fb3ae"/><path d="M373 119.96L372 119.32" stroke="#23b4ab"/><path d="M372 119.32L371 118.68" stroke="#27b5a8"/><path d="M371 118.68L370 118.04" stroke="#2cb6a5"/><path d="M370 118.04L369 117.4" stroke="#30b7a2"/><path d="M369 117.4L368 116.93" stroke="#35b89f"/><path d="M368 116.93L367 116.47" stroke="#3bb99c"/><path d="M367 116.47L366 116" stroke="#40ba99"/><path d="M366 116L365 115.53" stroke="#46bb96"/><path d="M365 115.53L364 115.07" stroke="#4cbc93"/><path d="M364 115.07L363 114.6" stroke="#52bd8f"/><path d="M363 114.6L362.6 115.73" stroke="#5cbe8a"/><path d="M362.6 115.73L362.2 116.87" stroke="#6bbf83"/><path d="M362.2 116.87L361.8 118" stroke="#7abf7c"/><path d="M361.8 118L361.4 119.13" stroke="#89bf76"/><path d="M361.4 119.13L361 120.27" stroke="#98bf70"/><path d="M361 120.27L360.6 121.4" stroke="#a6be6a"/></g>
<g stroke-width="2.4" stroke-linecap="round" fill="none"><path d="M317.8 172.2L318.85 172.15" stroke="#1fb4ad"/><path d="M318.85 172.15L319.9 172.1" stroke="#24b5aa"/><path d="M319.9 172.1L320.95 172.05" stroke="#2ab6a6"/><path d="M320.95 172.05L322 172" stroke="#30b7a3"/><path d="M322 172L323 171.84" stroke="#35b89f"/><path d="M323 171.84L324 171.68" stroke="#3ab99c"/><path d="M324 171.68L325 171.52" stroke="#3fba99"/><path d="M325 171.52L326 171.36" stroke="#45bb96"/><path d="M326 171.36L327 171.2" stroke="#4abc93"/><path d="M327 171.2L328 171.03" stroke="#51bc90"/><path d="M328 171.03L329 170.87" stroke="#58bd8c"/><path d="M329 170.87L330 170.7" stroke="#60be88"/><path d="M330 170.7L331 170.53" stroke="#67be85"/><path d="M331 170.53L332 170.37" stroke="#6fbf81"/><path d="M332 170.37L333 170.2" stroke="#76bf7e"/><path d="M333 170.2L334 170.04" stroke="#7ebf7b"/><path d="M334 170.04L335 169.88" stroke="#86bf77"/><path d="M335 169.88L336 169.72" stroke="#8ebf74"/><path d="M336 169.72L337 169.56" stroke="#96bf71"/><path d="M337 169.56L338 169.4" stroke="#9dbe6e"/><path d="M338 169.4L339 169.2" stroke="#a6be6a"/><path d="M339 169.2L340 169" stroke="#afbe67"/><path d="M340 169L341 168.8" stroke="#b8bd63"/><path d="M341 168.8L342 168.6" stroke="#c1bc60"/><path d="M342 168.6L343 168.4" stroke="#c9bb5c"/><path d="M343 168.4L344 168.29" stroke="#d0bb5a"/><path d="M344 168.29L345 168.17" stroke="#d4bb58"/><path d="M345 168.17L346 168.06" stroke="#d9ba56"/><path d="M346 168.06L347 167.94" stroke="#ddba54"/><path d="M347 167.94L348 167.83" stroke="#e1b952"/><path d="M348 167.83L349 167.71" stroke="#e6b950"/><path d="M349 167.71L350 167.6" stroke="#eab94e"/><path d="M350 167.6L351 167.49" stroke="#eeb94b"/><path d="M351 167.49L352 167.37" stroke="#f3b948"/><path d="M352 167.37L353 167.26" stroke="#f7ba45"/><path d="M353 167.26L354 167.14" stroke="#fabc42"/><path d="M354 167.14L355 167.03" stroke="#fdbd3e"/><path d="M355 167.03L356 166.91" stroke="#fec03b"/><path d="M356 166.91L357 166.8" stroke="#ffc338"/><path d="M357 166.8L358 166.64" stroke="#fec535"/><path d="M358 166.64L359 166.48" stroke="#fec832"/><path d="M359 166.48L360 166.32" stroke="#fdcb30"/><path d="M360 166.32L361 166.16" stroke="#fccd2e"/><path d="M361 166.16L362 166" stroke="#fbd02c"/><path d="M362 166L363.17 165.73" stroke="#f9d429"/><path d="M363.17 165.73L364.33 165.47" stroke="#f7d826"/><path d="M364.33 165.47L365.5 165.2" stroke="#f6dd22"/><path d="M365.5 165.2L366.53 164.73" stroke="#f5e21e"/><path d="M366.53 164.73L367.57 164.27" stroke="#f5e71b"/><path d="M367.57 164.27L368.6 163.8" stroke="#f5ed17"/><path d="M368.6 163.8L368.5 162.6" stroke="#f7f611"/></g>
<g stroke-width="2.4" stroke-linecap="round" fill="none"><path d="M369.2 166.2L368.3 165.4" stroke="#2a1c82"/><path d="M368.3 165.4L367.4 164.6" stroke="#2a1c82"/><path d="M367.4 164.6L366.5 163.8" stroke="#2a1c82"/><path d="M366.5 163.8L365.5 163.1" stroke="#3638a4"/><path d="M365.5 163.1L364.5 162.4" stroke="#353eaf"/><path d="M364.5 162.4L363.5 161.7" stroke="#3243b9"/><path d="M363.5 161.7L362.5 161.68" stroke="#2e48c2"/><path d="M362.5 161.68L361.5 161.66" stroke="#2a4cc9"/><path d="M361.5 161.66L360.5 161.64" stroke="#2450cf"/><path d="M360.5 161.64L359.5 161.62" stroke="#1d54d5"/><path d="M359.5 161.62L358.5 161.6" stroke="#1559da"/><path d="M358.5 161.6L357.42 161.87" stroke="#0d5dde"/><path d="M357.42 161.87L356.33 162.13" stroke="#0860df"/><path d="M356.33 162.13L355.25 162.4" stroke="#0363e1"/><path d="M355.25 162.4L354.17 162.67" stroke="#0265e1"/><path d="M354.17 162.67L353.08 162.93" stroke="#0267e1"/><path d="M353.08 162.93L352 163.2" stroke="#0269e1"/><path d="M352 163.2L351 163.6" stroke="#036be0"/><path d="M351 163.6L350 164" stroke="#056de0"/><path d="M350 164L349 164.4" stroke="#066fdf"/><path d="M349 164.4L348 164.8" stroke="#0871de"/><path d="M348 164.8L347 165.2" stroke="#0a72de"/><path d="M347 165.2L346 165.6" stroke="#0c74dd"/><path d="M346 165.6L345 165.93" stroke="#0d76dc"/><path d="M345 165.93L344 166.27" stroke="#0f77db"/><path d="M344 166.27L343 166.6" stroke="#1079da"/><path d="M343 166.6L342 166.93" stroke="#117ad9"/><path d="M342 166.93L341 167.27" stroke="#127cd8"/><path d="M341 167.27L340 167.6" stroke="#137ed7"/><path d="M340 167.6L339 167.8" stroke="#137fd6"/><path d="M339 167.8L338 168" stroke="#1481d6"/><path d="M338 168L337 168.2" stroke="#1483d5"/><path d="M337 168.2L336 168.4" stroke="#1484d4"/><path d="M336 168.4L335 168.6" stroke="#1486d3"/><path d="M335 168.6L334 168.8" stroke="#1388d3"/><path d="M334 168.8L333 168.93" stroke="#128ad3"/><path d="M333 168.93L332 169.07" stroke="#118cd2"/><path d="M332 169.07L331 169.2" stroke="#108ed2"/><path d="M331 169.2L330 169.33" stroke="#0e91d2"/><path d="M330 169.33L329 169.47" stroke="#0d93d2"/><path d="M329 169.47L328 169.6" stroke="#0b95d2"/><path d="M328 169.6L327 169.67" stroke="#0a97d1"/><path d="M327 169.67L326 169.73" stroke="#089ad1"/><path d="M326 169.73L325 169.8" stroke="#079cd0"/><path d="M325 169.8L324 169.87" stroke="#079ecf"/><path d="M324 169.87L323 169.93" stroke="#06a0cd"/><path d="M323 169.93L322 170" stroke="#06a2cc"/><path d="M322 170L321 170.05" stroke="#06a4ca"/><path d="M321 170.05L320 170.1" stroke="#06a6c7"/><path d="M320 170.1L319 170.15" stroke="#06a7c5"/><path d="M319 170.15L318 170.2" stroke="#07a9c2"/></g>
<text x="325.9" y="131.4" font-size="6.4" fill="#1a1a1a" text-anchor="start">Right</text>
<text x="350.9" y="159.8" font-size="6.4" fill="#1a1a1a" text-anchor="start">Left</text>
<g stroke-width="2.1" stroke-linecap="round" fill="none"><path d="M467.4 127.7L466.32 127.7" stroke="#2a1c82"/><path d="M466.32 127.7L465.24 127.7" stroke="#2a1c82"/><path d="M465.24 127.7L464.16 127.7" stroke="#2a1c82"/><path d="M464.16 127.7L463.08 127.7" stroke="#2a1c82"/><path d="M463.08 127.7L462 127.7" stroke="#2a1c82"/><path d="M462 127.7L460.95 127.65" stroke="#2a1c82"/><path d="M460.95 127.65L459.9 127.6" stroke="#2a1c82"/><path d="M459.9 127.6L458.85 127.55" stroke="#3637a0"/><path d="M458.85 127.55L457.8 127.5" stroke="#3639a5"/><path d="M457.8 127.5L458.9 126.75" stroke="#353dad"/><path d="M458.9 126.75L460 126" stroke="#3243b9"/><path d="M460 126L461.08 125.7" stroke="#2e48c1"/><path d="M461.08 125.7L462.16 125.4" stroke="#2c4ac6"/><path d="M462.16 125.4L463.24 125.1" stroke="#274dcb"/><path d="M463.24 125.1L464.32 124.8" stroke="#2350d0"/><path d="M464.32 124.8L465.4 124.5" stroke="#1e54d5"/><path d="M465.4 124.5L466.52 124.16" stroke="#1758d9"/><path d="M466.52 124.16L467.64 123.82" stroke="#0e5cde"/><path d="M467.64 123.82L468.76 123.48" stroke="#0860df"/><path d="M468.76 123.48L469.88 123.14" stroke="#0363e1"/><path d="M469.88 123.14L471 122.8" stroke="#0266e1"/><path d="M471 122.8L472.18 122.64" stroke="#0269e1"/><path d="M472.18 122.64L473.36 122.48" stroke="#036be0"/><path d="M473.36 122.48L474.54 122.32" stroke="#056de0"/><path d="M474.54 122.32L475.72 122.16" stroke="#076fdf"/><path d="M475.72 122.16L476.9 122" stroke="#0971de"/><path d="M476.9 122L477.89 122.21" stroke="#0b73dd"/><path d="M477.89 122.21L478.88 122.42" stroke="#0d75dc"/><path d="M478.88 122.42L479.87 122.63" stroke="#0e76db"/><path d="M479.87 122.63L480.86 122.84" stroke="#0f78db"/><path d="M480.86 122.84L481.84 123.06" stroke="#117ada"/><path d="M481.84 123.06L482.83 123.27" stroke="#127bd9"/><path d="M482.83 123.27L483.82 123.48" stroke="#137dd8"/><path d="M483.82 123.48L484.81 123.69" stroke="#137fd7"/><path d="M484.81 123.69L485.8 123.9" stroke="#1480d6"/><path d="M485.8 123.9L486.75 124.46" stroke="#1482d5"/><path d="M486.75 124.46L487.7 125.03" stroke="#1484d4"/><path d="M487.7 125.03L488.65 125.59" stroke="#1487d3"/><path d="M488.65 125.59L489.6 126.15" stroke="#1389d3"/><path d="M489.6 126.15L490.55 126.71" stroke="#118cd2"/><path d="M490.55 126.71L491.5 127.28" stroke="#108fd2"/><path d="M491.5 127.28L492.45 127.84" stroke="#0e92d2"/><path d="M492.45 127.84L493.4 128.4" stroke="#0c94d2"/><path d="M493.4 128.4L494.55 128.88" stroke="#0998d1"/><path d="M494.55 128.88L495.7 129.35" stroke="#079bd0"/><path d="M495.7 129.35L496.85 129.83" stroke="#069ece"/><path d="M496.85 129.83L498 130.3" stroke="#06a1cc"/><path d="M498 130.3L499 130.2" stroke="#06a4ca"/><path d="M499 130.2L500 130.1" stroke="#06a6c7"/><path d="M500 130.1L501 130" stroke="#06a7c5"/><path d="M501 130L501.8 129.28" stroke="#07a9c2"/><path d="M501.8 129.28L502.6 128.55" stroke="#09abbf"/><path d="M502.6 128.55L503.4 127.82" stroke="#0dadbb"/><path d="M503.4 127.82L504.2 127.1" stroke="#11afb7"/><path d="M504.2 127.1L503.57 126.26" stroke="#15b1b4"/><path d="M503.57 126.26L502.93 125.41" stroke="#1ab2b1"/><path d="M502.93 125.41L502.3 124.57" stroke="#1eb3ae"/><path d="M502.3 124.57L501.67 123.72" stroke="#22b4ab"/><path d="M501.67 123.72L501.03 122.88" stroke="#27b5a8"/><path d="M501.03 122.88L500.4 122.03" stroke="#2cb7a5"/><path d="M500.4 122.03L499.77 121.19" stroke="#31b8a2"/><path d="M499.77 121.19L499.13 120.34" stroke="#37b99e"/><path d="M499.13 120.34L498.5 119.5" stroke="#3dba9b"/><path d="M498.5 119.5L497.86 118.67" stroke="#42bb98"/><path d="M497.86 118.67L497.21 117.84" stroke="#48bb94"/><path d="M497.21 117.84L496.57 117.01" stroke="#4ebc91"/><path d="M496.57 117.01L495.93 116.19" stroke="#55bd8e"/><path d="M495.93 116.19L495.29 115.36" stroke="#5bbd8a"/><path d="M495.29 115.36L494.64 114.53" stroke="#62be87"/><path d="M494.64 114.53L494 113.7" stroke="#68be84"/><path d="M494 113.7L493.8 114.76" stroke="#70bf81"/><path d="M493.8 114.76L493.6 115.82" stroke="#78bf7d"/><path d="M493.6 115.82L493.4 116.88" stroke="#81bf79"/><path d="M493.4 116.88L493.2 117.94" stroke="#89bf76"/><path d="M493.2 117.94L493 119" stroke="#91bf73"/><path d="M493 119L492.84 120.1" stroke="#99bf70"/><path d="M492.84 120.1L492.68 121.2" stroke="#a0be6d"/><path d="M492.68 121.2L492.52 122.3" stroke="#a7be6a"/><path d="M492.52 122.3L492.36 123.4" stroke="#aebe67"/><path d="M492.36 123.4L492.2 124.5" stroke="#b5bd65"/><path d="M492.2 124.5L491.18 124.73" stroke="#bbbd62"/><path d="M491.18 124.73L490.16 124.96" stroke="#c2bc5f"/><path d="M490.16 124.96L489.14 125.19" stroke="#c8bc5d"/><path d="M489.14 125.19L488.12 125.42" stroke="#cfbb5a"/><path d="M488.12 125.42L487.1 125.65" stroke="#d5ba57"/><path d="M487.1 125.65L486.08 125.88" stroke="#dbba55"/><path d="M486.08 125.88L485.06 126.11" stroke="#e1b952"/><path d="M485.06 126.11L484.04 126.34" stroke="#e7b94f"/><path d="M484.04 126.34L483.02 126.57" stroke="#edb94c"/><path d="M483.02 126.57L482 126.8" stroke="#f3ba48"/><path d="M482 126.8L481 126.79" stroke="#f8bb44"/><path d="M481 126.79L480 126.77" stroke="#fcbd3f"/><path d="M480 126.77L479 126.76" stroke="#fec03a"/><path d="M479 126.76L478 126.74" stroke="#ffc436"/><path d="M478 126.74L477 126.73" stroke="#fec833"/><path d="M477 126.73L476 126.71" stroke="#fdcc2f"/><path d="M476 126.71L475 126.7" stroke="#fbcf2c"/><path d="M475 126.7L474 126.66" stroke="#f9d329"/><path d="M474 126.66L473 126.61" stroke="#f8d726"/><path d="M473 126.61L472 126.57" stroke="#f6db23"/><path d="M472 126.57L471 126.53" stroke="#f5df20"/><path d="M471 126.53L470 126.49" stroke="#f5e41d"/><path d="M470 126.49L469 126.44" stroke="#f5e91a"/><path d="M469 126.44L468 126.4" stroke="#f5ee16"/></g>
<g stroke-width="2.2" stroke-linecap="round" fill="none"><path d="M456.8 168.3L457 167.2" stroke="#1ab2b1"/><path d="M457 167.2L458 166.93" stroke="#26b5a9"/><path d="M458 166.93L459 166.67" stroke="#30b7a3"/><path d="M459 166.67L460 166.4" stroke="#3ab99c"/><path d="M460 166.4L461.05 166.25" stroke="#44bb97"/><path d="M461.05 166.25L462.1 166.1" stroke="#4cbc92"/><path d="M462.1 166.1L463.15 165.95" stroke="#56bd8d"/><path d="M463.15 165.95L464.2 165.8" stroke="#5fbe89"/><path d="M464.2 165.8L465.36 165.84" stroke="#69be84"/><path d="M465.36 165.84L466.52 165.88" stroke="#73bf7f"/><path d="M466.52 165.88L467.68 165.92" stroke="#7dbf7b"/><path d="M467.68 165.92L468.84 165.96" stroke="#87bf77"/><path d="M468.84 165.96L470 166" stroke="#90bf73"/><path d="M470 166L471 166.24" stroke="#99bf70"/><path d="M471 166.24L472 166.48" stroke="#a2be6c"/><path d="M472 166.48L473 166.72" stroke="#aabe69"/><path d="M473 166.72L474 166.96" stroke="#b2bd66"/><path d="M474 166.96L475 167.2" stroke="#babd63"/><path d="M475 167.2L476 167.14" stroke="#c1bc60"/><path d="M476 167.14L477 167.09" stroke="#c8bc5d"/><path d="M477 167.09L478 167.03" stroke="#cfbb5a"/><path d="M478 167.03L479 166.97" stroke="#d5ba57"/><path d="M479 166.97L480 166.91" stroke="#dcba54"/><path d="M480 166.91L481 166.86" stroke="#e2b951"/><path d="M481 166.86L482 166.8" stroke="#e9b94e"/><path d="M482 166.8L483.05 166.57" stroke="#efb94b"/><path d="M483.05 166.57L484.1 166.33" stroke="#f5ba47"/><path d="M484.1 166.33L485.15 166.1" stroke="#fabb42"/><path d="M485.15 166.1L486.2 165.87" stroke="#fdbe3d"/><path d="M486.2 165.87L487.25 165.63" stroke="#fec239"/><path d="M487.25 165.63L488.3 165.4" stroke="#fec535"/><path d="M488.3 165.4L489.44 165.24" stroke="#fec932"/><path d="M489.44 165.24L490.58 165.08" stroke="#fccc2f"/><path d="M490.58 165.08L491.72 164.92" stroke="#fbd02c"/><path d="M491.72 164.92L492.86 164.76" stroke="#fad32a"/><path d="M492.86 164.76L494 164.6" stroke="#f8d627"/><path d="M494 164.6L495.1 164.4" stroke="#f7da24"/><path d="M495.1 164.4L496.2 164.2" stroke="#f6dd22"/><path d="M496.2 164.2L497.3 164" stroke="#f5e11f"/><path d="M497.3 164L497.93 163.17" stroke="#f5e51c"/><path d="M497.93 163.17L498.57 162.33" stroke="#f5ea19"/><path d="M498.57 162.33L499.2 161.5" stroke="#f5ee16"/><path d="M499.2 161.5L499.2 160.2" stroke="#f6f313"/><path d="M499.2 160.2L499.2 158.9" stroke="#f8f80f"/></g>
<g stroke-width="2.3" stroke-linecap="round" fill="none"><path d="M496.6 162.1L495.97 161.17" stroke="#2a1c82"/><path d="M495.97 161.17L495.33 160.23" stroke="#2a1c82"/><path d="M495.33 160.23L494.7 159.3" stroke="#3637a1"/><path d="M494.7 159.3L493.87 158.73" stroke="#353cac"/><path d="M493.87 158.73L493.03 158.17" stroke="#3342b7"/><path d="M493.03 158.17L492.2 157.6" stroke="#2e48c2"/><path d="M492.2 157.6L490.9 157.83" stroke="#264ecd"/><path d="M490.9 157.83L489.6 158.07" stroke="#1b55d7"/><path d="M489.6 158.07L488.3 158.3" stroke="#0d5dde"/><path d="M488.3 158.3L487.4 158.93" stroke="#0562e0"/><path d="M487.4 158.93L486.5 159.56" stroke="#0265e1"/><path d="M486.5 159.56L485.6 160.19" stroke="#0268e1"/><path d="M485.6 160.19L484.7 160.81" stroke="#036ae1"/><path d="M484.7 160.81L483.8 161.44" stroke="#046de0"/><path d="M483.8 161.44L482.9 162.07" stroke="#066fdf"/><path d="M482.9 162.07L482 162.7" stroke="#0971de"/><path d="M482 162.7L481.12 163.3" stroke="#0b73dd"/><path d="M481.12 163.3L480.25 163.9" stroke="#0d76dc"/><path d="M480.25 163.9L479.38 164.5" stroke="#0f78db"/><path d="M479.38 164.5L478.5 165.1" stroke="#117ada"/><path d="M478.5 165.1L477.62 165.7" stroke="#127cd8"/><path d="M477.62 165.7L476.75 166.3" stroke="#137ed7"/><path d="M476.75 166.3L475.88 166.9" stroke="#1480d6"/><path d="M475.88 166.9L475 167.5" stroke="#1482d5"/><path d="M475 167.5L474 167.98" stroke="#1485d4"/><path d="M474 167.98L473 168.46" stroke="#1388d3"/><path d="M473 168.46L472 168.94" stroke="#128bd3"/><path d="M472 168.94L471 169.42" stroke="#108ed2"/><path d="M471 169.42L470 169.9" stroke="#0e91d2"/><path d="M470 169.9L468.85 170.07" stroke="#0c94d2"/><path d="M468.85 170.07L467.7 170.25" stroke="#0997d1"/><path d="M467.7 170.25L466.55 170.43" stroke="#089ad0"/><path d="M466.55 170.43L465.4 170.6" stroke="#079dcf"/><path d="M465.4 170.6L464.32 170.44" stroke="#069fce"/><path d="M464.32 170.44L463.24 170.28" stroke="#06a2cc"/><path d="M463.24 170.28L462.16 170.12" stroke="#06a4ca"/><path d="M462.16 170.12L461.08 169.96" stroke="#06a6c7"/><path d="M461.08 169.96L460 169.8" stroke="#06a7c5"/><path d="M460 169.8L458.93 169.37" stroke="#07a9c2"/><path d="M458.93 169.37L457.87 168.93" stroke="#09acbe"/><path d="M457.87 168.93L456.8 168.5" stroke="#0daebb"/></g>
<text x="450.8" y="134.4" font-size="6.4" fill="#1a1a1a" text-anchor="start">Right</text>
<text x="475.6" y="159.8" font-size="6.4" fill="#1a1a1a" text-anchor="start">Left</text>
<g stroke-width="2.8" stroke-linecap="round" fill="none"><path d="M64.2 211.6L64.97 210.93" stroke="#09abbf"/><path d="M64.97 210.93L65.73 210.27" stroke="#0cadbb"/><path d="M65.73 210.27L66.5 209.6" stroke="#11afb8"/><path d="M66.5 209.6L67.43 208.97" stroke="#15b1b4"/><path d="M67.43 208.97L68.37 208.33" stroke="#18b1b2"/><path d="M68.37 208.33L69.3 207.7" stroke="#1bb2b0"/></g>
<g stroke-width="2.6" stroke-linecap="round" fill="none"><path d="M61.6 214L63 212.8" stroke="#f6dd22"/><path d="M63 212.8L64.2 211.6" stroke="#fccc2f"/></g>
<g stroke-width="3.0" stroke-linecap="round" fill="none"><path d="M60.4 215.3L61 214.7" stroke="#2a1c82"/></g>
<g stroke-width="2.8" stroke-linecap="round" fill="none"><path d="M117 264.3L116 265" stroke="#2a1c82"/><path d="M116 265L115 265.7" stroke="#2d49c3"/><path d="M115 265.7L114 266.5" stroke="#0d93d2"/><path d="M114 266.5L113 267.3" stroke="#b8bd63"/><path d="M113 267.3L112 267.93" stroke="#f9d429"/><path d="M112 267.93L111 268.57" stroke="#f7da24"/><path d="M111 268.57L110 269.2" stroke="#f5e020"/><path d="M110 269.2L108.85 269.95" stroke="#f5e61b"/><path d="M108.85 269.95L107.7 270.7" stroke="#f5ed17"/></g>
<g stroke-width="1.2" stroke-linecap="round" fill="none"><path d="M111 270.5L112 270.15" stroke="#18b1b2"/><path d="M112 270.15L113 269.8" stroke="#18b1b2"/></g>
<text x="69.7" y="218.6" font-size="6.4" fill="#1a1a1a" text-anchor="start">Right</text>
<text x="100.3" y="256.9" font-size="6.4" fill="#1a1a1a" text-anchor="start">Left</text>
<g stroke-width="2.1" stroke-linecap="round" fill="none"><path d="M196.7 225.4L197.52 224.66" stroke="#2a1c82"/><path d="M197.52 224.66L198.34 223.92" stroke="#2a1c82"/><path d="M198.34 223.92L199.16 223.18" stroke="#2a1c82"/><path d="M199.16 223.18L199.98 222.44" stroke="#2a1c82"/><path d="M199.98 222.44L200.8 221.7" stroke="#2a1c82"/><path d="M200.8 221.7L201.78 221.21" stroke="#3637a0"/><path d="M201.78 221.21L202.77 220.72" stroke="#3639a5"/><path d="M202.77 220.72L203.75 220.22" stroke="#353ba9"/><path d="M203.75 220.22L204.73 219.73" stroke="#353dad"/><path d="M204.73 219.73L205.72 219.24" stroke="#343fb1"/><path d="M205.72 219.24L206.7 218.75" stroke="#3341b5"/><path d="M206.7 218.75L207.7 218.58" stroke="#3144bb"/><path d="M207.7 218.58L208.7 218.41" stroke="#2d49c3"/><path d="M208.7 218.41L209.7 218.24" stroke="#274dcb"/><path d="M209.7 218.24L210.7 218.07" stroke="#2053d4"/><path d="M210.7 218.07L211.7 217.9" stroke="#1658da"/><path d="M211.7 217.9L212.86 217.9" stroke="#0860e0"/><path d="M212.86 217.9L214.02 217.9" stroke="#0268e1"/><path d="M214.02 217.9L215.18 217.9" stroke="#066edf"/><path d="M215.18 217.9L216.34 217.9" stroke="#0c74dd"/><path d="M216.34 217.9L217.5 217.9" stroke="#1079da"/><path d="M217.5 217.9L218.55 218.75" stroke="#1482d5"/><path d="M218.55 218.75L219.6 219.6" stroke="#0e91d2"/><path d="M219.6 219.6L218.33 220" stroke="#079dcf"/><path d="M218.33 220L217.07 220.4" stroke="#06a5c9"/><path d="M217.07 220.4L215.8 220.8" stroke="#08aac0"/><path d="M215.8 220.8L214.66 220.7" stroke="#0faeb9"/><path d="M214.66 220.7L213.53 220.6" stroke="#15b0b5"/><path d="M213.53 220.6L212.39 220.5" stroke="#1cb2b0"/><path d="M212.39 220.5L211.25 220.4" stroke="#23b5ab"/><path d="M211.25 220.4L211.99 221.35" stroke="#2eb7a4"/><path d="M211.99 221.35L212.72 222.3" stroke="#3eba9a"/><path d="M212.72 222.3L213.46 223.25" stroke="#4fbc91"/><path d="M213.46 223.25L214.2 224.2" stroke="#62be87"/><path d="M214.2 224.2L213.36 224.86" stroke="#76bf7e"/><path d="M213.36 224.86L212.52 225.52" stroke="#89bf76"/><path d="M212.52 225.52L211.68 226.18" stroke="#9bbf6f"/><path d="M211.68 226.18L210.84 226.84" stroke="#acbe68"/><path d="M210.84 226.84L210 227.5" stroke="#bbbd62"/><path d="M210 227.5L208.84 227.58" stroke="#c9bb5c"/><path d="M208.84 227.58L207.68 227.66" stroke="#d6ba57"/><path d="M207.68 227.66L206.52 227.74" stroke="#e2b951"/><path d="M206.52 227.74L205.36 227.82" stroke="#eeb94b"/><path d="M205.36 227.82L204.2 227.9" stroke="#f9bb43"/><path d="M204.2 227.9L203.05 227.6" stroke="#fec238"/><path d="M203.05 227.6L201.9 227.3" stroke="#fdcb30"/><path d="M201.9 227.3L200.75 227" stroke="#f9d429"/><path d="M200.75 227L199.6 226.7" stroke="#f5de21"/><path d="M199.6 226.7L198.55 226.25" stroke="#f5e91a"/><path d="M198.55 226.25L197.5 225.8" stroke="#f7f412"/></g>
<g stroke-width="2.2" stroke-linecap="round" fill="none"><path d="M230.1 241.7L229.87 242.7" stroke="#2a1c82"/><path d="M229.87 242.7L229.64 243.7" stroke="#2a1c82"/><path d="M229.64 243.7L229.41 244.7" stroke="#2a1c82"/><path d="M229.41 244.7L229.19 245.7" stroke="#2a1c82"/><path d="M229.19 245.7L228.96 246.7" stroke="#2a1c82"/><path d="M228.96 246.7L228.73 247.7" stroke="#3636a0"/><path d="M228.73 247.7L228.5 248.7" stroke="#3639a4"/><path d="M228.5 248.7L228.18 249.65" stroke="#353baa"/><path d="M228.18 249.65L227.87 250.6" stroke="#343fb1"/><path d="M227.87 250.6L227.55 251.55" stroke="#3242b7"/><path d="M227.55 251.55L227.23 252.5" stroke="#3046be"/><path d="M227.23 252.5L226.92 253.45" stroke="#2c4ac5"/><path d="M226.92 253.45L226.6 254.4" stroke="#274ecc"/><path d="M226.6 254.4L225.87 255.13" stroke="#1f53d4"/><path d="M225.87 255.13L225.14 255.86" stroke="#1359db"/><path d="M225.14 255.86L224.41 256.59" stroke="#095fdf"/><path d="M224.41 256.59L223.69 257.31" stroke="#0364e1"/><path d="M223.69 257.31L222.96 258.04" stroke="#0268e1"/><path d="M222.96 258.04L222.23 258.77" stroke="#036be0"/><path d="M222.23 258.77L221.5 259.5" stroke="#066edf"/><path d="M221.5 259.5L220.78 260.2" stroke="#0971de"/><path d="M220.78 260.2L220.06 260.9" stroke="#0c74dd"/><path d="M220.06 260.9L219.33 261.6" stroke="#0f77db"/><path d="M219.33 261.6L218.61 262.3" stroke="#117ad9"/><path d="M218.61 262.3L217.89 263" stroke="#137dd8"/><path d="M217.89 263L217.17 263.7" stroke="#1480d6"/><path d="M217.17 263.7L216.44 264.4" stroke="#1483d4"/><path d="M216.44 264.4L215.72 265.1" stroke="#1487d3"/><path d="M215.72 265.1L215 265.8" stroke="#128ad3"/><path d="M215 265.8L214.28 266.68" stroke="#0f90d2"/><path d="M214.28 266.68L213.56 267.56" stroke="#0998d1"/><path d="M213.56 267.56L212.84 268.44" stroke="#069ece"/><path d="M212.84 268.44L212.12 269.32" stroke="#06a3ca"/><path d="M212.12 269.32L211.4 270.2" stroke="#06a8c4"/></g>
<g stroke-width="2.2" stroke-linecap="round" fill="none"><path d="M211.4 270.2L212.1 269.45" stroke="#15b0b5"/><path d="M212.1 269.45L212.8 268.7" stroke="#17b1b3"/><path d="M212.8 268.7L213.5 267.95" stroke="#19b2b1"/><path d="M213.5 267.95L214.2 267.2" stroke="#1cb2b0"/><path d="M214.2 267.2L214.9 266.45" stroke="#1eb3ae"/><path d="M214.9 266.45L215.6 265.7" stroke="#21b4ac"/><path d="M215.6 265.7L216.3 264.95" stroke="#23b5ab"/><path d="M216.3 264.95L217 264.2" stroke="#26b5a9"/><path d="M217 264.2L217.81 263.5" stroke="#29b6a7"/><path d="M217.81 263.5L218.62 262.8" stroke="#2bb6a5"/><path d="M218.62 262.8L219.44 262.1" stroke="#2eb7a4"/><path d="M219.44 262.1L220.25 261.4" stroke="#31b8a2"/><path d="M220.25 261.4L221.06 260.7" stroke="#34b8a0"/><path d="M221.06 260.7L221.88 260" stroke="#37b99e"/><path d="M221.88 260L222.69 259.3" stroke="#3bb99c"/><path d="M222.69 259.3L223.5 258.6" stroke="#3eba9a"/><path d="M223.5 258.6L224.43 258.22" stroke="#44bb97"/><path d="M224.43 258.22L225.37 257.83" stroke="#4dbc92"/><path d="M225.37 257.83L226.3 257.45" stroke="#57bd8c"/><path d="M226.3 257.45L227.23 257.07" stroke="#61be87"/><path d="M227.23 257.07L228.17 256.68" stroke="#6bbf83"/><path d="M228.17 256.68L229.1 256.3" stroke="#75bf7e"/><path d="M229.1 256.3L230.24 256.16" stroke="#80bf7a"/><path d="M230.24 256.16L231.38 256.02" stroke="#8abf76"/><path d="M231.38 256.02L232.52 255.88" stroke="#95bf71"/><path d="M232.52 255.88L233.66 255.74" stroke="#9fbe6d"/><path d="M233.66 255.74L234.8 255.6" stroke="#a8be6a"/><path d="M234.8 255.6L235.44 254.72" stroke="#b2bd65"/><path d="M235.44 254.72L236.08 253.84" stroke="#bebc61"/><path d="M236.08 253.84L236.72 252.96" stroke="#c8bc5d"/><path d="M236.72 252.96L237.36 252.08" stroke="#d3bb58"/><path d="M237.36 252.08L238 251.2" stroke="#ddba54"/><path d="M238 251.2L237.68 250.1" stroke="#e8b94e"/><path d="M237.68 250.1L237.35 249" stroke="#f5ba47"/><path d="M237.35 249L237.02 247.9" stroke="#febe3d"/><path d="M237.02 247.9L236.7 246.8" stroke="#fec734"/><path d="M236.7 246.8L235.68 246.54" stroke="#fccd2e"/><path d="M235.68 246.54L234.66 246.28" stroke="#fad32a"/><path d="M234.66 246.28L233.64 246.02" stroke="#f7d826"/><path d="M233.64 246.02L232.62 245.76" stroke="#f6de22"/><path d="M232.62 245.76L231.6 245.5" stroke="#f5e41d"/><path d="M231.6 245.5L230.95 244.5" stroke="#f5ec18"/><path d="M230.95 244.5L230.3 243.5" stroke="#f7f611"/></g>
<g stroke-width="2.8" stroke-linecap="round" fill="none"><path d="M196.6 225.6L197.4 224.8" stroke="#2a1c82"/></g>
<g stroke-width="2.8" stroke-linecap="round" fill="none"><path d="M229.9 241.4L230.3 242.6" stroke="#2a1c82"/></g>
<text x="194.7" y="240.4" font-size="6.4" fill="#1a1a1a" text-anchor="start">Right</text>
<text x="232.3" y="240.4" font-size="6.4" fill="#1a1a1a" text-anchor="start">Left</text>
<g stroke-width="2.0" stroke-linecap="round" fill="none"><path d="M322.2 227.4L323.18 227.12" stroke="#f8f80f"/><path d="M323.18 227.12L324.15 226.85" stroke="#f6f313"/><path d="M324.15 226.85L325.12 226.57" stroke="#f5ee16"/><path d="M325.12 226.57L326.1 226.3" stroke="#f5ea19"/><path d="M326.1 226.3L327.07 226.03" stroke="#f5e51c"/><path d="M327.07 226.03L328.05 225.75" stroke="#f5e11f"/><path d="M328.05 225.75L329.02 225.47" stroke="#f6dd22"/><path d="M329.02 225.47L330 225.2" stroke="#f7da24"/><path d="M330 225.2L331 224.84" stroke="#f8d627"/><path d="M331 224.84L332 224.48" stroke="#fad32a"/><path d="M332 224.48L333 224.12" stroke="#fbd02c"/><path d="M333 224.12L334 223.76" stroke="#fccc2f"/><path d="M334 223.76L335 223.4" stroke="#fec932"/><path d="M335 223.4L336 223.04" stroke="#fec635"/><path d="M336 223.04L337 222.68" stroke="#ffc238"/><path d="M337 222.68L338 222.32" stroke="#febf3c"/><path d="M338 222.32L339 221.96" stroke="#fbbd40"/><path d="M339 221.96L340 221.6" stroke="#f8ba44"/><path d="M340 221.6L341 221.23" stroke="#f2b949"/><path d="M341 221.23L342 220.86" stroke="#e9b94e"/><path d="M342 220.86L343 220.49" stroke="#e1ba52"/><path d="M343 220.49L344 220.11" stroke="#d8ba56"/><path d="M344 220.11L345 219.74" stroke="#cfbb5a"/><path d="M345 219.74L346 219.37" stroke="#c6bc5e"/><path d="M346 219.37L347 219" stroke="#bdbd61"/><path d="M347 219L347.87 218.27" stroke="#adbe68"/><path d="M347.87 218.27L348.73 217.53" stroke="#95bf71"/><path d="M348.73 217.53L349.6 216.8" stroke="#7abf7c"/></g>
<g stroke-width="2.4" stroke-linecap="round" fill="none"><path d="M318.8 227.8L319.85 227.15" stroke="#2a1c82"/><path d="M319.85 227.15L320.9 226.5" stroke="#2a1c82"/><path d="M320.9 226.5L321.95 225.85" stroke="#2a1c82"/><path d="M321.95 225.85L323 225.2" stroke="#2a1c82"/><path d="M323 225.2L324 224.7" stroke="#3637a0"/><path d="M324 224.7L325 224.2" stroke="#3639a5"/><path d="M325 224.2L326 223.7" stroke="#353ba9"/><path d="M326 223.7L327 223.2" stroke="#353dad"/><path d="M327 223.2L328 222.83" stroke="#343fb1"/><path d="M328 222.83L329 222.47" stroke="#3341b5"/><path d="M329 222.47L330 222.1" stroke="#3243b9"/><path d="M330 222.1L331 221.73" stroke="#3045bd"/><path d="M331 221.73L332 221.37" stroke="#2e47c1"/><path d="M332 221.37L333 221" stroke="#2c4ac5"/><path d="M333 221L334 220.7" stroke="#284dcb"/><path d="M334 220.7L335 220.4" stroke="#2251d1"/><path d="M335 220.4L336 220.1" stroke="#1a56d7"/><path d="M336 220.1L337 219.8" stroke="#115bdc"/><path d="M337 219.8L338 219.5" stroke="#0a5fdf"/><path d="M338 219.5L339 219.2" stroke="#0462e1"/><path d="M339 219.2L340 218.9" stroke="#0266e1"/><path d="M340 218.9L341 218.6" stroke="#036ae1"/><path d="M341 218.6L342 218.3" stroke="#056ee0"/><path d="M342 218.3L343 218" stroke="#0971de"/><path d="M343 218L344 217.7" stroke="#0d75dc"/><path d="M344 217.7L345 217.4" stroke="#0f78db"/><path d="M345 217.4L346.1 217.15" stroke="#137dd8"/><path d="M346.1 217.15L347.2 216.9" stroke="#1484d4"/><path d="M347.2 216.9L348.3 216.65" stroke="#128cd2"/><path d="M348.3 216.65L349.4 216.4" stroke="#0b95d2"/><path d="M349.4 216.4L350.2 215.2" stroke="#06a3cb"/><path d="M350.2 215.2L349.15 215.15" stroke="#08abc0"/><path d="M349.15 215.15L348.1 215.1" stroke="#0bacbd"/><path d="M348.1 215.1L347.05 215.05" stroke="#0eaeba"/><path d="M347.05 215.05L346 215" stroke="#12afb7"/><path d="M346 215L344.88 215.08" stroke="#15b1b4"/><path d="M344.88 215.08L343.76 215.16" stroke="#19b2b2"/><path d="M343.76 215.16L342.64 215.24" stroke="#1db3af"/><path d="M342.64 215.24L341.52 215.32" stroke="#21b4ac"/><path d="M341.52 215.32L340.4 215.4" stroke="#25b5aa"/></g>
<g stroke-width="2.4" stroke-linecap="round" fill="none"><path d="M360.8 231.1L360.35 232.03" stroke="#2a1c82"/><path d="M360.35 232.03L359.9 232.95" stroke="#2a1c82"/><path d="M359.9 232.95L359.45 233.88" stroke="#2a1c82"/><path d="M359.45 233.88L359 234.8" stroke="#2a1c82"/><path d="M359 234.8L358.28 235.68" stroke="#3637a1"/><path d="M358.28 235.68L357.56 236.56" stroke="#3639a6"/><path d="M357.56 236.56L356.84 237.44" stroke="#353cab"/><path d="M356.84 237.44L356.12 238.32" stroke="#343eaf"/><path d="M356.12 238.32L355.4 239.2" stroke="#3341b4"/><path d="M355.4 239.2L354.92 240.18" stroke="#3243b9"/><path d="M354.92 240.18L354.43 241.17" stroke="#3045bd"/><path d="M354.43 241.17L353.95 242.15" stroke="#2e47c1"/><path d="M353.95 242.15L353.47 243.13" stroke="#2c4ac5"/><path d="M353.47 243.13L352.98 244.12" stroke="#294cc9"/><path d="M352.98 244.12L352.5 245.1" stroke="#264fcd"/><path d="M352.5 245.1L351.63 245.7" stroke="#2053d4"/><path d="M351.63 245.7L350.77 246.3" stroke="#1658da"/><path d="M350.77 246.3L349.9 246.9" stroke="#0c5dde"/><path d="M349.9 246.9L349.03 247.5" stroke="#0462e0"/><path d="M349.03 247.5L348.17 248.1" stroke="#0266e1"/><path d="M348.17 248.1L347.3 248.7" stroke="#0269e1"/><path d="M347.3 248.7L346.44 249.25" stroke="#046ce0"/><path d="M346.44 249.25L345.58 249.8" stroke="#066fdf"/><path d="M345.58 249.8L344.73 250.35" stroke="#0972de"/><path d="M344.73 250.35L343.87 250.9" stroke="#0c74dd"/><path d="M343.87 250.9L343.01 251.45" stroke="#0e77db"/><path d="M343.01 251.45L342.15 252" stroke="#117ada"/><path d="M342.15 252L341.29 252.55" stroke="#127cd8"/><path d="M341.29 252.55L340.43 253.1" stroke="#137fd7"/><path d="M340.43 253.1L339.57 253.65" stroke="#1482d5"/><path d="M339.57 253.65L338.72 254.2" stroke="#1484d4"/><path d="M338.72 254.2L337.86 254.75" stroke="#1487d3"/><path d="M337.86 254.75L337 255.3" stroke="#128bd3"/><path d="M337 255.3L336.17 255.89" stroke="#118ed2"/><path d="M336.17 255.89L335.35 256.47" stroke="#0e91d2"/><path d="M335.35 256.47L334.52 257.06" stroke="#0c94d2"/><path d="M334.52 257.06L333.69 257.65" stroke="#0a97d1"/><path d="M333.69 257.65L332.87 258.23" stroke="#0899d1"/><path d="M332.87 258.23L332.04 258.82" stroke="#079cd0"/><path d="M332.04 258.82L331.21 259.41" stroke="#069ece"/><path d="M331.21 259.41L330.39 259.99" stroke="#06a0cd"/><path d="M330.39 259.99L329.56 260.58" stroke="#06a2cb"/><path d="M329.56 260.58L328.73 261.17" stroke="#06a4c9"/><path d="M328.73 261.17L327.91 261.75" stroke="#06a6c7"/><path d="M327.91 261.75L327.08 262.34" stroke="#06a8c4"/><path d="M327.08 262.34L326.25 262.93" stroke="#07a9c2"/><path d="M326.25 262.93L325.43 263.51" stroke="#09abbf"/><path d="M325.43 263.51L324.6 264.1" stroke="#0bacbd"/></g>
<g stroke-width="2.4" stroke-linecap="round" fill="none"><path d="M324.6 264.4L325.47 263.77" stroke="#1eb3ae"/><path d="M325.47 263.77L326.33 263.13" stroke="#1fb4ad"/><path d="M326.33 263.13L327.2 262.5" stroke="#21b4ac"/><path d="M327.2 262.5L328.07 261.87" stroke="#23b4ab"/><path d="M328.07 261.87L328.93 261.23" stroke="#24b5aa"/><path d="M328.93 261.23L329.8 260.6" stroke="#26b5a9"/><path d="M329.8 260.6L330.67 259.97" stroke="#28b6a8"/><path d="M330.67 259.97L331.53 259.33" stroke="#2ab6a6"/><path d="M331.53 259.33L332.4 258.7" stroke="#2cb7a5"/><path d="M332.4 258.7L333.27 258.07" stroke="#2eb7a4"/><path d="M333.27 258.07L334.13 257.43" stroke="#30b7a3"/><path d="M334.13 257.43L335 256.8" stroke="#32b8a1"/><path d="M335 256.8L335.85 256.2" stroke="#34b8a0"/><path d="M335.85 256.2L336.71 255.6" stroke="#38b99e"/><path d="M336.71 255.6L337.56 255" stroke="#3bb99c"/><path d="M337.56 255L338.42 254.4" stroke="#3fba9a"/><path d="M338.42 254.4L339.27 253.8" stroke="#42bb98"/><path d="M339.27 253.8L340.13 253.2" stroke="#46bb95"/><path d="M340.13 253.2L340.98 252.6" stroke="#4abc93"/><path d="M340.98 252.6L341.84 252" stroke="#4ebc91"/><path d="M341.84 252L342.69 251.4" stroke="#52bd8f"/><path d="M342.69 251.4L343.55 250.8" stroke="#56bd8d"/><path d="M343.55 250.8L344.4 250.2" stroke="#5abd8b"/><path d="M344.4 250.2L345.5 249.87" stroke="#60be88"/><path d="M345.5 249.87L346.6 249.53" stroke="#67be85"/><path d="M346.6 249.53L347.7 249.2" stroke="#6fbf81"/><path d="M347.7 249.2L348.8 248.87" stroke="#76bf7e"/><path d="M348.8 248.87L349.9 248.53" stroke="#7dbf7b"/><path d="M349.9 248.53L351 248.2" stroke="#84bf78"/><path d="M351 248.2L352.1 247.92" stroke="#8cbf75"/><path d="M352.1 247.92L353.2 247.63" stroke="#95bf71"/><path d="M353.2 247.63L354.3 247.35" stroke="#9dbe6e"/><path d="M354.3 247.35L355.4 247.07" stroke="#a5be6b"/><path d="M355.4 247.07L356.5 246.78" stroke="#adbe68"/><path d="M356.5 246.78L357.6 246.5" stroke="#b4bd65"/><path d="M357.6 246.5L358.51 245.95" stroke="#bcbd62"/><path d="M358.51 245.95L359.43 245.4" stroke="#c4bc5e"/><path d="M359.43 245.4L360.34 244.85" stroke="#ccbb5b"/><path d="M360.34 244.85L361.25 244.3" stroke="#d4bb58"/><path d="M361.25 244.3L362.16 243.75" stroke="#dcba54"/><path d="M362.16 243.75L363.07 243.2" stroke="#e3b951"/><path d="M363.07 243.2L363.99 242.65" stroke="#ebb94d"/><path d="M363.99 242.65L364.9 242.1" stroke="#f2b949"/><path d="M364.9 242.1L365.52 241.13" stroke="#f9bb43"/><path d="M365.52 241.13L366.13 240.17" stroke="#febf3c"/><path d="M366.13 240.17L366.75 239.2" stroke="#fec536"/><path d="M366.75 239.2L367.37 238.23" stroke="#fdca31"/><path d="M367.37 238.23L367.98 237.27" stroke="#fbd02c"/><path d="M367.98 237.27L368.6 236.3" stroke="#f9d528"/><path d="M368.6 236.3L368.1 235.07" stroke="#f6db24"/><path d="M368.1 235.07L367.6 233.83" stroke="#f5e11f"/><path d="M367.6 233.83L367.1 232.6" stroke="#f5e81a"/><path d="M367.1 232.6L365.9 232.37" stroke="#f5ee16"/><path d="M365.9 232.37L364.7 232.13" stroke="#f6f313"/><path d="M364.7 232.13L363.5 231.9" stroke="#f8f80f"/></g>
<text x="332.1" y="231.5" font-size="6.4" fill="#1a1a1a" text-anchor="start">Right</text>
<text x="357.3" y="256" font-size="6.4" fill="#1a1a1a" text-anchor="start">Left</text>
<g stroke-width="2.2" stroke-linecap="round" fill="none"><path d="M450 219.2L451 219.09" stroke="#f9f90f"/><path d="M451 219.09L452 218.99" stroke="#f8f711"/><path d="M452 218.99L453 218.88" stroke="#f7f412"/><path d="M453 218.88L454 218.77" stroke="#f6f114"/><path d="M454 218.77L455 218.67" stroke="#f6ef16"/><path d="M455 218.67L456 218.56" stroke="#f5ec17"/><path d="M456 218.56L457 218.45" stroke="#f5ea19"/><path d="M457 218.45L458 218.35" stroke="#f5e71b"/><path d="M458 218.35L459 218.24" stroke="#f5e51c"/><path d="M459 218.24L460 218.13" stroke="#f5e31e"/><path d="M460 218.13L461 218.03" stroke="#f5e11f"/><path d="M461 218.03L462 217.92" stroke="#f5df21"/><path d="M462 217.92L463 217.81" stroke="#f6dd22"/><path d="M463 217.81L464 217.71" stroke="#f6db24"/><path d="M464 217.71L465 217.6" stroke="#f7d925"/><path d="M465 217.6L466 217.44" stroke="#f8d727"/><path d="M466 217.44L467 217.28" stroke="#f9d528"/><path d="M467 217.28L468 217.12" stroke="#fad22a"/><path d="M468 217.12L469 216.96" stroke="#fbd02c"/><path d="M469 216.96L470 216.8" stroke="#fcce2e"/><path d="M470 216.8L471 216.64" stroke="#fdcb30"/><path d="M471 216.64L472 216.48" stroke="#fec932"/><path d="M472 216.48L473 216.32" stroke="#fec734"/><path d="M473 216.32L474 216.16" stroke="#ffc436"/><path d="M474 216.16L475 216" stroke="#fec239"/><path d="M475 216L476 215.81" stroke="#fdbe3e"/><path d="M476 215.81L477 215.62" stroke="#f5ba47"/><path d="M477 215.62L478 215.44" stroke="#ebb94d"/><path d="M478 215.44L479 215.25" stroke="#e0ba53"/><path d="M479 215.25L480 215.06" stroke="#d5ba57"/><path d="M480 215.06L481 214.88" stroke="#cabb5c"/><path d="M481 214.88L482 214.69" stroke="#bfbc61"/><path d="M482 214.69L483 214.5" stroke="#b3bd65"/></g>
<g stroke-width="2.4" stroke-linecap="round" fill="none"><path d="M446.5 220.6L446.6 219.57" stroke="#2a1c82"/><path d="M446.6 219.57L446.7 218.53" stroke="#2a1c82"/><path d="M446.7 218.53L446.8 217.5" stroke="#2a1c82"/><path d="M446.8 217.5L447.87 217.13" stroke="#2a1c82"/><path d="M447.87 217.13L448.93 216.77" stroke="#2a1c82"/><path d="M448.93 216.77L450 216.4" stroke="#2a1c82"/><path d="M450 216.4L451 216.26" stroke="#3636a0"/><path d="M451 216.26L452 216.12" stroke="#3638a2"/><path d="M452 216.12L453 215.98" stroke="#3639a5"/><path d="M453 215.98L454 215.84" stroke="#363aa7"/><path d="M454 215.84L455 215.7" stroke="#353ba9"/><path d="M455 215.7L456 215.56" stroke="#353cac"/><path d="M456 215.56L457 215.42" stroke="#353eae"/><path d="M457 215.42L458 215.28" stroke="#343fb1"/><path d="M458 215.28L459 215.14" stroke="#3440b3"/><path d="M459 215.14L460 215" stroke="#3341b6"/><path d="M460 215L461 214.9" stroke="#3243b8"/><path d="M461 214.9L462 214.8" stroke="#3145bc"/><path d="M462 214.8L463 214.7" stroke="#2f46bf"/><path d="M463 214.7L464 214.6" stroke="#2e48c2"/><path d="M464 214.6L465 214.5" stroke="#2c4ac6"/><path d="M465 214.5L466 214.4" stroke="#2a4cc9"/><path d="M466 214.4L467 214.3" stroke="#274ecc"/><path d="M467 214.3L468 214.2" stroke="#2450cf"/><path d="M468 214.2L469 214.1" stroke="#2152d3"/><path d="M469 214.1L470 214" stroke="#1d54d5"/><path d="M470 214L471 213.9" stroke="#1658da"/><path d="M471 213.9L472 213.8" stroke="#0c5dde"/><path d="M472 213.8L473 213.7" stroke="#0462e0"/><path d="M473 213.7L474 213.6" stroke="#0266e1"/><path d="M474 213.6L475 213.5" stroke="#0269e1"/><path d="M475 213.5L476 213.4" stroke="#046ce0"/><path d="M476 213.4L477 213.3" stroke="#066edf"/><path d="M477 213.3L478 213.2" stroke="#0871de"/><path d="M478 213.2L479 213.1" stroke="#0b74dd"/><path d="M479 213.1L480 213" stroke="#0e76dc"/><path d="M480 213L481.12 212.55" stroke="#127bd9"/><path d="M481.12 212.55L482.25 212.1" stroke="#1484d4"/><path d="M482.25 212.1L483.38 211.65" stroke="#108fd2"/><path d="M483.38 211.65L484.5 211.2" stroke="#089ad1"/><path d="M484.5 211.2L484 209.3" stroke="#07aac1"/><path d="M484 209.3L483 209.14" stroke="#20b4ad"/><path d="M483 209.14L482 208.98" stroke="#26b5a9"/><path d="M482 208.98L481 208.82" stroke="#2db7a5"/><path d="M481 208.82L480 208.66" stroke="#34b8a0"/><path d="M480 208.66L479 208.5" stroke="#3cba9c"/><path d="M479 208.5L478 208.43" stroke="#43bb97"/><path d="M478 208.43L477 208.37" stroke="#4abc93"/><path d="M477 208.37L476 208.3" stroke="#51bc90"/><path d="M476 208.3L475 208.23" stroke="#58bd8c"/><path d="M475 208.23L474 208.17" stroke="#60be88"/><path d="M474 208.17L473 208.1" stroke="#67be85"/></g>
<g stroke-width="2.3" stroke-linecap="round" fill="none"><path d="M490.7 225.5L490.43 226.63" stroke="#2a1c82"/><path d="M490.43 226.63L490.17 227.77" stroke="#2a1c82"/><path d="M490.17 227.77L489.9 228.9" stroke="#2a1c82"/><path d="M489.9 228.9L489.02 229.78" stroke="#2a1c82"/><path d="M489.02 229.78L488.15 230.65" stroke="#2a1c82"/><path d="M488.15 230.65L487.27 231.53" stroke="#3637a0"/><path d="M487.27 231.53L486.4 232.4" stroke="#3639a5"/><path d="M486.4 232.4L485.9 233.6" stroke="#353aa8"/><path d="M485.9 233.6L485.4 234.8" stroke="#353cab"/><path d="M485.4 234.8L484.9 236" stroke="#353dad"/><path d="M484.9 236L484.8 237" stroke="#343eb0"/><path d="M484.8 237L484.7 238" stroke="#343fb2"/><path d="M484.7 238L484.6 239" stroke="#3340b4"/><path d="M484.6 239L484.5 240" stroke="#3341b6"/><path d="M484.5 240L484.12 241" stroke="#3243b9"/><path d="M484.12 241L483.75 242" stroke="#3045bd"/><path d="M483.75 242L483.38 243" stroke="#2e47c1"/><path d="M483.38 243L483 244" stroke="#2c4ac5"/><path d="M483 244L482.4 245" stroke="#294cca"/><path d="M482.4 245L481.8 246" stroke="#254fcf"/><path d="M481.8 246L481.2 247" stroke="#2053d4"/><path d="M481.2 247L480.6 248" stroke="#1a56d7"/><path d="M480.6 248L480 249" stroke="#1359db"/><path d="M480 249L479.4 249.8" stroke="#0e5dde"/><path d="M479.4 249.8L478.8 250.6" stroke="#095fdf"/><path d="M478.8 250.6L478.2 251.4" stroke="#0462e0"/><path d="M478.2 251.4L477.6 252.2" stroke="#0364e1"/><path d="M477.6 252.2L477 253" stroke="#0266e1"/><path d="M477 253L476.29 253.71" stroke="#0269e1"/><path d="M476.29 253.71L475.57 254.43" stroke="#036be0"/><path d="M475.57 254.43L474.86 255.14" stroke="#056de0"/><path d="M474.86 255.14L474.14 255.86" stroke="#0770df"/><path d="M474.14 255.86L473.43 256.57" stroke="#0972de"/><path d="M473.43 256.57L472.71 257.29" stroke="#0c74dd"/><path d="M472.71 257.29L472 258" stroke="#0e76dc"/><path d="M472 258L471.14 258.71" stroke="#1078da"/><path d="M471.14 258.71L470.29 259.43" stroke="#117bd9"/><path d="M470.29 259.43L469.43 260.14" stroke="#137dd8"/><path d="M469.43 260.14L468.57 260.86" stroke="#1480d6"/><path d="M468.57 260.86L467.71 261.57" stroke="#1482d5"/><path d="M467.71 261.57L466.86 262.29" stroke="#1485d4"/><path d="M466.86 262.29L466 263" stroke="#1388d3"/><path d="M466 263L465.2 263.74" stroke="#128bd2"/><path d="M465.2 263.74L464.4 264.49" stroke="#0f8fd2"/><path d="M464.4 264.49L463.6 265.23" stroke="#0c93d2"/><path d="M463.6 265.23L462.8 265.97" stroke="#0997d1"/><path d="M462.8 265.97L462 266.71" stroke="#079bd0"/><path d="M462 266.71L461.2 267.46" stroke="#069ece"/><path d="M461.2 267.46L460.4 268.2" stroke="#06a1cc"/><path d="M460.4 268.2L459.52 268.77" stroke="#06a5c9"/><path d="M459.52 268.77L458.65 269.35" stroke="#06a8c4"/><path d="M458.65 269.35L457.77 269.93" stroke="#09acbe"/><path d="M457.77 269.93L456.9 270.5" stroke="#10afb9"/></g>
<g><rect x="456.1" y="269.4" width="1.8" height="1.8" fill="#1db3af"/><rect x="457.81" y="267.45" width="1.8" height="1.8" fill="#20b4ad"/><rect x="459.53" y="265.49" width="1.8" height="1.8" fill="#24b5aa"/><rect x="461.27" y="263.56" width="1.8" height="1.8" fill="#28b6a8"/><rect x="463.3" y="261.94" width="1.8" height="1.8" fill="#2eb7a4"/><rect x="465.33" y="260.32" width="1.8" height="1.8" fill="#35b8a0"/><rect x="467.46" y="258.83" width="1.8" height="1.8" fill="#3cba9b"/><rect x="469.74" y="257.59" width="1.8" height="1.8" fill="#45bb96"/><rect x="472.02" y="256.35" width="1.8" height="1.8" fill="#4fbc91"/></g>
<g stroke-width="2.2" stroke-linecap="round" fill="none"><path d="M474.3 256.7L475.34 256.18" stroke="#58bd8c"/><path d="M475.34 256.18L476.38 255.66" stroke="#60be88"/><path d="M476.38 255.66L477.42 255.14" stroke="#67be85"/><path d="M477.42 255.14L478.46 254.62" stroke="#6fbf81"/><path d="M478.46 254.62L479.5 254.1" stroke="#76bf7e"/><path d="M479.5 254.1L480.58 253.78" stroke="#7dbf7b"/><path d="M480.58 253.78L481.67 253.47" stroke="#84bf78"/><path d="M481.67 253.47L482.75 253.15" stroke="#8bbf75"/><path d="M482.75 253.15L483.83 252.83" stroke="#92bf73"/><path d="M483.83 252.83L484.92 252.52" stroke="#98bf70"/><path d="M484.92 252.52L486 252.2" stroke="#9ebe6e"/><path d="M486 252.2L487.04 251.97" stroke="#a4be6b"/><path d="M487.04 251.97L488.09 251.74" stroke="#a9be69"/><path d="M488.09 251.74L489.13 251.51" stroke="#aebe67"/><path d="M489.13 251.51L490.17 251.29" stroke="#b2bd65"/><path d="M490.17 251.29L491.21 251.06" stroke="#b7bd64"/><path d="M491.21 251.06L492.26 250.83" stroke="#bcbd62"/><path d="M492.26 250.83L493.3 250.6" stroke="#c1bc60"/><path d="M493.3 250.6L494.18 250.08" stroke="#c6bc5e"/><path d="M494.18 250.08L495.06 249.56" stroke="#ccbb5b"/><path d="M495.06 249.56L495.94 249.04" stroke="#d3bb58"/><path d="M495.94 249.04L496.82 248.52" stroke="#d9ba56"/><path d="M496.82 248.52L497.7 248" stroke="#dfba53"/><path d="M497.7 248L498.35 247.14" stroke="#e4b951"/><path d="M498.35 247.14L499 246.28" stroke="#e8b94f"/><path d="M499 246.28L499.65 245.41" stroke="#ecb94d"/><path d="M499.65 245.41L500.3 244.55" stroke="#efb94b"/><path d="M500.3 244.55L500.95 243.69" stroke="#f3ba48"/><path d="M500.95 243.69L501.6 242.82" stroke="#f6ba45"/><path d="M501.6 242.82L502.25 241.96" stroke="#f9bb43"/><path d="M502.25 241.96L502.9 241.1" stroke="#fcbd3f"/><path d="M502.9 241.1L503.06 240.06" stroke="#fec03b"/><path d="M503.06 240.06L503.22 239.02" stroke="#ffc337"/><path d="M503.22 239.02L503.38 237.98" stroke="#fec733"/><path d="M503.38 237.98L503.54 236.94" stroke="#fdcb30"/><path d="M503.54 236.94L503.7 235.9" stroke="#fbcf2c"/><path d="M503.7 235.9L503.13 234.88" stroke="#fad32a"/><path d="M503.13 234.88L502.57 233.87" stroke="#f8d627"/><path d="M502.57 233.87L502 232.85" stroke="#f7da24"/><path d="M502 232.85L501.43 231.83" stroke="#f6dd22"/><path d="M501.43 231.83L500.87 230.82" stroke="#f5e11f"/><path d="M500.87 230.82L500.3 229.8" stroke="#f5e51c"/><path d="M500.3 229.8L499.24 229.46" stroke="#f5e91a"/><path d="M499.24 229.46L498.18 229.12" stroke="#f5eb18"/><path d="M498.18 229.12L497.12 228.78" stroke="#f5ee16"/><path d="M497.12 228.78L496.06 228.44" stroke="#f6f114"/><path d="M496.06 228.44L495 228.1" stroke="#f7f412"/><path d="M495 228.1L493.3 228.9" stroke="#f8f80f"/></g>
<text x="457" y="227.6" font-size="6.4" fill="#1a1a1a" text-anchor="start">Right</text>
<text x="494.2" y="256.2" font-size="6.4" fill="#1a1a1a" text-anchor="start">Left</text>
<path d="M60.6 21.4V84.5H117.8" stroke="#4d4d4d" stroke-width="0.9" fill="none"/>
<path d="M60.6 84.5v-1.2M89.2 84.5v-1.2M117.8 84.5v-1.2M60.6 21.4h1.2M60.6 37.17h1.2M60.6 52.95h1.2M60.6 68.73h1.2M60.6 84.5h1.2" stroke="#4d4d4d" stroke-width="0.6" fill="none"/>
<text x="60.6" y="91.4" font-size="6.6" fill="#262626" text-anchor="middle">-0.01</text>
<text x="89.2" y="91.4" font-size="6.6" fill="#262626" text-anchor="middle">0</text>
<text x="117.8" y="91.4" font-size="6.6" fill="#262626" text-anchor="middle">0.01</text>
<text x="58.2" y="24.15" font-size="6.6" fill="#262626" text-anchor="end">-0.2</text>
<text x="58.2" y="39.92" font-size="6.6" fill="#262626" text-anchor="end">-0.1</text>
<text x="58.2" y="55.7" font-size="6.6" fill="#262626" text-anchor="end">0</text>
<text x="58.2" y="71.48" font-size="6.6" fill="#262626" text-anchor="end">0.1</text>
<text x="58.2" y="87.25" font-size="6.6" fill="#262626" text-anchor="end">0.2</text>
<text x="89.4" y="103.4" font-size="7.7" fill="#262626" text-anchor="middle">x (m)</text>
<text x="44.4" y="53.65" font-size="7.7" fill="#262626" text-anchor="middle" transform="rotate(-90 44.4 53.65)">z (m)</text>
<text x="89.2" y="18.3" font-size="7.4" fill="#000" text-anchor="middle" font-weight="bold">Hip</text>
<rect x="134.2" y="21.4" width="6.5" height="63.1" fill="url(#cbg)" stroke="#4d4d4d" stroke-width="0.6"/>
<path d="M140.7 52.95h-1.3" stroke="#4d4d4d" stroke-width="0.6"/>
<text x="143" y="24.2" font-size="6.6" fill="#262626" text-anchor="start">100</text>
<text x="143" y="55.75" font-size="6.6" fill="#262626" text-anchor="start">50</text>
<text x="143" y="87.3" font-size="6.6" fill="#262626" text-anchor="start">0</text>
<path d="M189.45 21.4V84.5H246.65" stroke="#4d4d4d" stroke-width="0.9" fill="none"/>
<path d="M189.45 84.5v-1.2M218.05 84.5v-1.2M246.65 84.5v-1.2M189.45 21.4h1.2M189.45 37.17h1.2M189.45 52.95h1.2M189.45 68.73h1.2M189.45 84.5h1.2" stroke="#4d4d4d" stroke-width="0.6" fill="none"/>
<text x="189.45" y="91.4" font-size="6.6" fill="#262626" text-anchor="middle">-0.2</text>
<text x="218.05" y="91.4" font-size="6.6" fill="#262626" text-anchor="middle">0</text>
<text x="246.65" y="91.4" font-size="6.6" fill="#262626" text-anchor="middle">0.2</text>
<text x="187.05" y="24.15" font-size="6.6" fill="#262626" text-anchor="end">-0.2</text>
<text x="187.05" y="39.92" font-size="6.6" fill="#262626" text-anchor="end">-0.1</text>
<text x="187.05" y="55.7" font-size="6.6" fill="#262626" text-anchor="end">0</text>
<text x="187.05" y="71.48" font-size="6.6" fill="#262626" text-anchor="end">0.1</text>
<text x="187.05" y="87.25" font-size="6.6" fill="#262626" text-anchor="end">0.2</text>
<text x="218.25" y="103.4" font-size="7.7" fill="#262626" text-anchor="middle">x(m)</text>
<text x="173.1" y="53.65" font-size="7.7" fill="#262626" text-anchor="middle" transform="rotate(-90 173.1 53.65)">z(m)</text>
<text x="218.05" y="18.3" font-size="7.4" fill="#000" text-anchor="middle" font-weight="bold">Knee</text>
<rect x="263.3" y="21.4" width="6.5" height="63.1" fill="url(#cbg)" stroke="#4d4d4d" stroke-width="0.6"/>
<path d="M269.8 52.95h-1.3" stroke="#4d4d4d" stroke-width="0.6"/>
<text x="272.1" y="24.2" font-size="6.6" fill="#262626" text-anchor="start">100</text>
<text x="272.1" y="55.75" font-size="6.6" fill="#262626" text-anchor="start">50</text>
<text x="272.1" y="87.3" font-size="6.6" fill="#262626" text-anchor="start">0</text>
<path d="M317.9 21.4V84.5H375.1" stroke="#4d4d4d" stroke-width="0.9" fill="none"/>
<path d="M317.9 84.5v-1.2M346.5 84.5v-1.2M375.1 84.5v-1.2M317.9 21.4h1.2M317.9 37.17h1.2M317.9 52.95h1.2M317.9 68.73h1.2M317.9 84.5h1.2" stroke="#4d4d4d" stroke-width="0.6" fill="none"/>
<text x="317.9" y="91.4" font-size="6.6" fill="#262626" text-anchor="middle">-0.5</text>
<text x="346.5" y="91.4" font-size="6.6" fill="#262626" text-anchor="middle">0</text>
<text x="375.1" y="91.4" font-size="6.6" fill="#262626" text-anchor="middle">0.5</text>
<text x="315.5" y="24.15" font-size="6.6" fill="#262626" text-anchor="end">-0.2</text>
<text x="315.5" y="39.92" font-size="6.6" fill="#262626" text-anchor="end">-0.1</text>
<text x="315.5" y="55.7" font-size="6.6" fill="#262626" text-anchor="end">0</text>
<text x="315.5" y="71.48" font-size="6.6" fill="#262626" text-anchor="end">0.1</text>
<text x="315.5" y="87.25" font-size="6.6" fill="#262626" text-anchor="end">0.2</text>
<text x="346.7" y="103.4" font-size="7.7" fill="#262626" text-anchor="middle">x(m)</text>
<text x="301.8" y="53.65" font-size="7.7" fill="#262626" text-anchor="middle" transform="rotate(-90 301.8 53.65)">z(m)</text>
<text x="346.5" y="18.3" font-size="7.4" fill="#000" text-anchor="middle" font-weight="bold">Ankle</text>
<rect x="391.8" y="21.4" width="6.5" height="63.1" fill="url(#cbg)" stroke="#4d4d4d" stroke-width="0.6"/>
<path d="M398.3 52.95h-1.3" stroke="#4d4d4d" stroke-width="0.6"/>
<text x="400.6" y="24.2" font-size="6.6" fill="#262626" text-anchor="start">100</text>
<text x="400.6" y="55.75" font-size="6.6" fill="#262626" text-anchor="start">50</text>
<text x="400.6" y="87.3" font-size="6.6" fill="#262626" text-anchor="start">0</text>
<path d="M446.5 21.4V84.5H503.7" stroke="#4d4d4d" stroke-width="0.9" fill="none"/>
<path d="M446.5 84.5v-1.2M461.23 84.5v-1.2M475.97 84.5v-1.2M490.7 84.5v-1.2M446.5 21.4h1.2M446.5 37.17h1.2M446.5 52.95h1.2M446.5 68.73h1.2M446.5 84.5h1.2" stroke="#4d4d4d" stroke-width="0.6" fill="none"/>
<text x="446.5" y="91.4" font-size="6.6" fill="#262626" text-anchor="middle">-0.2</text>
<text x="461.23" y="91.4" font-size="6.6" fill="#262626" text-anchor="middle">0</text>
<text x="475.97" y="91.4" font-size="6.6" fill="#262626" text-anchor="middle">0.2</text>
<text x="490.7" y="91.4" font-size="6.6" fill="#262626" text-anchor="middle">0.4</text>
<text x="444.1" y="24.15" font-size="6.6" fill="#262626" text-anchor="end">-0.2</text>
<text x="444.1" y="39.92" font-size="6.6" fill="#262626" text-anchor="end">-0.1</text>
<text x="444.1" y="55.7" font-size="6.6" fill="#262626" text-anchor="end">0</text>
<text x="444.1" y="71.48" font-size="6.6" fill="#262626" text-anchor="end">0.1</text>
<text x="444.1" y="87.25" font-size="6.6" fill="#262626" text-anchor="end">0.2</text>
<text x="475.3" y="103.4" font-size="7.7" fill="#262626" text-anchor="middle">x(m)</text>
<text x="430.8" y="53.65" font-size="7.7" fill="#262626" text-anchor="middle" transform="rotate(-90 430.8 53.65)">z(m)</text>
<text x="475.1" y="18.3" font-size="7.4" fill="#000" text-anchor="middle" font-weight="bold">Toe</text>
<rect x="520.1" y="21.4" width="6.5" height="63.1" fill="url(#cbg)" stroke="#4d4d4d" stroke-width="0.6"/>
<path d="M526.6 52.95h-1.3" stroke="#4d4d4d" stroke-width="0.6"/>
<text x="528.9" y="24.2" font-size="6.6" fill="#262626" text-anchor="start">100</text>
<text x="528.9" y="55.75" font-size="6.6" fill="#262626" text-anchor="start">50</text>
<text x="528.9" y="87.3" font-size="6.6" fill="#262626" text-anchor="start">0</text>
<path d="M60.6 115.4V178.5H117.8" stroke="#4d4d4d" stroke-width="0.9" fill="none"/>
<path d="M70.13 178.5v-1.2M89.2 178.5v-1.2M108.27 178.5v-1.2M60.6 115.4h1.2M60.6 131.18h1.2M60.6 146.95h1.2M60.6 162.73h1.2M60.6 178.5h1.2" stroke="#4d4d4d" stroke-width="0.6" fill="none"/>
<text x="70.13" y="185.4" font-size="6.6" fill="#262626" text-anchor="middle">-0.02</text>
<text x="89.2" y="185.4" font-size="6.6" fill="#262626" text-anchor="middle">0</text>
<text x="108.27" y="185.4" font-size="6.6" fill="#262626" text-anchor="middle">0.02</text>
<text x="58.2" y="118.15" font-size="6.6" fill="#262626" text-anchor="end">-0.2</text>
<text x="58.2" y="133.93" font-size="6.6" fill="#262626" text-anchor="end">-0.1</text>
<text x="58.2" y="149.7" font-size="6.6" fill="#262626" text-anchor="end">0</text>
<text x="58.2" y="165.48" font-size="6.6" fill="#262626" text-anchor="end">0.1</text>
<text x="58.2" y="181.25" font-size="6.6" fill="#262626" text-anchor="end">0.2</text>
<text x="89.4" y="197.4" font-size="7.7" fill="#262626" text-anchor="middle">x (m)</text>
<text x="44.4" y="147.65" font-size="7.7" fill="#262626" text-anchor="middle" transform="rotate(-90 44.4 147.65)">z (m)</text>
<rect x="134.2" y="115.4" width="6.5" height="63.1" fill="url(#cbg)" stroke="#4d4d4d" stroke-width="0.6"/>
<path d="M140.7 146.95h-1.3" stroke="#4d4d4d" stroke-width="0.6"/>
<text x="143" y="118.2" font-size="6.6" fill="#262626" text-anchor="start">100</text>
<text x="143" y="149.75" font-size="6.6" fill="#262626" text-anchor="start">50</text>
<text x="143" y="181.3" font-size="6.6" fill="#262626" text-anchor="start">0</text>
<path d="M189.45 115.4V178.5H246.65" stroke="#4d4d4d" stroke-width="0.9" fill="none"/>
<path d="M197.7 178.5v-1.2M222 178.5v-1.2M246.3 178.5v-1.2M189.45 117.7h1.2M189.45 132.85h1.2M189.45 148h1.2M189.45 163.15h1.2M189.45 178.3h1.2" stroke="#4d4d4d" stroke-width="0.6" fill="none"/>
<text x="197.7" y="185.4" font-size="6.6" fill="#262626" text-anchor="middle">0.2</text>
<text x="222" y="185.4" font-size="6.6" fill="#262626" text-anchor="middle">0.3</text>
<text x="246.3" y="185.4" font-size="6.6" fill="#262626" text-anchor="middle">0.4</text>
<text x="187.05" y="120.45" font-size="6.6" fill="#262626" text-anchor="end">-0.2</text>
<text x="187.05" y="135.6" font-size="6.6" fill="#262626" text-anchor="end">-0.1</text>
<text x="187.05" y="150.75" font-size="6.6" fill="#262626" text-anchor="end">0</text>
<text x="187.05" y="165.9" font-size="6.6" fill="#262626" text-anchor="end">0.1</text>
<text x="187.05" y="181.05" font-size="6.6" fill="#262626" text-anchor="end">0.2</text>
<text x="218.25" y="197.4" font-size="7.7" fill="#262626" text-anchor="middle">x(m)</text>
<text x="173.1" y="147.65" font-size="7.7" fill="#262626" text-anchor="middle" transform="rotate(-90 173.1 147.65)">z(m)</text>
<rect x="263.3" y="115.4" width="6.5" height="63.1" fill="url(#cbg)" stroke="#4d4d4d" stroke-width="0.6"/>
<path d="M269.8 146.95h-1.3" stroke="#4d4d4d" stroke-width="0.6"/>
<text x="272.1" y="118.2" font-size="6.6" fill="#262626" text-anchor="start">100</text>
<text x="272.1" y="149.75" font-size="6.6" fill="#262626" text-anchor="start">50</text>
<text x="272.1" y="181.3" font-size="6.6" fill="#262626" text-anchor="start">0</text>
<path d="M317.9 115.4V178.5H375.1" stroke="#4d4d4d" stroke-width="0.9" fill="none"/>
<path d="M330 178.5v-1.2M352.2 178.5v-1.2M374.4 178.5v-1.2M317.9 116.2h1.2M317.9 131.72h1.2M317.9 147.25h1.2M317.9 162.78h1.2M317.9 178.3h1.2" stroke="#4d4d4d" stroke-width="0.6" fill="none"/>
<text x="330" y="185.4" font-size="6.6" fill="#262626" text-anchor="middle">0</text>
<text x="352.2" y="185.4" font-size="6.6" fill="#262626" text-anchor="middle">0.2</text>
<text x="374.4" y="185.4" font-size="6.6" fill="#262626" text-anchor="middle">0.4</text>
<text x="315.5" y="118.95" font-size="6.6" fill="#262626" text-anchor="end">-0.2</text>
<text x="315.5" y="134.47" font-size="6.6" fill="#262626" text-anchor="end">-0.1</text>
<text x="315.5" y="150" font-size="6.6" fill="#262626" text-anchor="end">0</text>
<text x="315.5" y="165.53" font-size="6.6" fill="#262626" text-anchor="end">0.1</text>
<text x="315.5" y="181.05" font-size="6.6" fill="#262626" text-anchor="end">0.2</text>
<text x="346.7" y="197.4" font-size="7.7" fill="#262626" text-anchor="middle">x(m)</text>
<text x="301.8" y="147.65" font-size="7.7" fill="#262626" text-anchor="middle" transform="rotate(-90 301.8 147.65)">z(m)</text>
<rect x="391.8" y="115.4" width="6.5" height="63.1" fill="url(#cbg)" stroke="#4d4d4d" stroke-width="0.6"/>
<path d="M398.3 146.95h-1.3" stroke="#4d4d4d" stroke-width="0.6"/>
<text x="400.6" y="118.2" font-size="6.6" fill="#262626" text-anchor="start">100</text>
<text x="400.6" y="149.75" font-size="6.6" fill="#262626" text-anchor="start">50</text>
<text x="400.6" y="181.3" font-size="6.6" fill="#262626" text-anchor="start">0</text>
<path d="M446.5 115.4V178.5H503.7" stroke="#4d4d4d" stroke-width="0.9" fill="none"/>
<path d="M446.5 178.5v-1.2M490.6 178.5v-1.2M446.5 122.9h1.2M446.5 136.75h1.2M446.5 150.6h1.2M446.5 164.45h1.2M446.5 178.3h1.2" stroke="#4d4d4d" stroke-width="0.6" fill="none"/>
<text x="446.5" y="185.4" font-size="6.6" fill="#262626" text-anchor="middle">0</text>
<text x="490.6" y="185.4" font-size="6.6" fill="#262626" text-anchor="middle">0.5</text>
<text x="444.1" y="125.65" font-size="6.6" fill="#262626" text-anchor="end">-0.2</text>
<text x="444.1" y="139.5" font-size="6.6" fill="#262626" text-anchor="end">-0.1</text>
<text x="444.1" y="153.35" font-size="6.6" fill="#262626" text-anchor="end">0</text>
<text x="444.1" y="167.2" font-size="6.6" fill="#262626" text-anchor="end">0.1</text>
<text x="444.1" y="181.05" font-size="6.6" fill="#262626" text-anchor="end">0.2</text>
<text x="475.3" y="197.4" font-size="7.7" fill="#262626" text-anchor="middle">x(m)</text>
<text x="430.5" y="147.65" font-size="7.7" fill="#262626" text-anchor="middle" transform="rotate(-90 430.5 147.65)">z(m)</text>
<rect x="520.1" y="115.4" width="6.5" height="63.1" fill="url(#cbg)" stroke="#4d4d4d" stroke-width="0.6"/>
<path d="M526.6 146.95h-1.3" stroke="#4d4d4d" stroke-width="0.6"/>
<text x="528.9" y="118.2" font-size="6.6" fill="#262626" text-anchor="start">100</text>
<text x="528.9" y="149.75" font-size="6.6" fill="#262626" text-anchor="start">50</text>
<text x="528.9" y="181.3" font-size="6.6" fill="#262626" text-anchor="start">0</text>
<path d="M60.6 208.3V271.4H117.8" stroke="#4d4d4d" stroke-width="0.9" fill="none"/>
<path d="M61 271.4v-1.2M88.8 271.4v-1.2M116.6 271.4v-1.2M60.6 213.9h1.2M60.6 226.78h1.2M60.6 239.65h1.2M60.6 252.52h1.2M60.6 265.4h1.2" stroke="#4d4d4d" stroke-width="0.6" fill="none"/>
<text x="61" y="278.3" font-size="6.6" fill="#262626" text-anchor="middle">-0.1</text>
<text x="88.8" y="278.3" font-size="6.6" fill="#262626" text-anchor="middle">0</text>
<text x="116.6" y="278.3" font-size="6.6" fill="#262626" text-anchor="middle">0.1</text>
<text x="58.2" y="216.65" font-size="6.6" fill="#262626" text-anchor="end">-0.1</text>
<text x="58.2" y="229.53" font-size="6.6" fill="#262626" text-anchor="end">-0.05</text>
<text x="58.2" y="242.4" font-size="6.6" fill="#262626" text-anchor="end">0</text>
<text x="58.2" y="255.27" font-size="6.6" fill="#262626" text-anchor="end">0.05</text>
<text x="58.2" y="268.15" font-size="6.6" fill="#262626" text-anchor="end">0.1</text>
<text x="89.4" y="290.3" font-size="7.7" fill="#262626" text-anchor="middle">x (m)</text>
<text x="41.7" y="240.55" font-size="7.7" fill="#262626" text-anchor="middle" transform="rotate(-90 41.7 240.55)">z (m)</text>
<rect x="134.2" y="208.3" width="6.5" height="63.1" fill="url(#cbg)" stroke="#4d4d4d" stroke-width="0.6"/>
<path d="M140.7 239.85h-1.3" stroke="#4d4d4d" stroke-width="0.6"/>
<text x="143" y="211.1" font-size="6.6" fill="#262626" text-anchor="start">100</text>
<text x="143" y="242.65" font-size="6.6" fill="#262626" text-anchor="start">50</text>
<text x="143" y="274.2" font-size="6.6" fill="#262626" text-anchor="start">0</text>
<path d="M189.45 208.3V271.4H246.65" stroke="#4d4d4d" stroke-width="0.9" fill="none"/>
<path d="M189.45 271.4v-1.2M246.65 271.4v-1.2M189.45 208.8h1.2M189.45 222.45h1.2M189.45 236.1h1.2M189.45 249.75h1.2M189.45 263.4h1.2" stroke="#4d4d4d" stroke-width="0.6" fill="none"/>
<text x="189.45" y="278.3" font-size="6.6" fill="#262626" text-anchor="middle">0</text>
<text x="246.65" y="278.3" font-size="6.6" fill="#262626" text-anchor="middle">0.5</text>
<text x="187.05" y="211.55" font-size="6.6" fill="#262626" text-anchor="end">-0.4</text>
<text x="187.05" y="225.2" font-size="6.6" fill="#262626" text-anchor="end">-0.3</text>
<text x="187.05" y="238.85" font-size="6.6" fill="#262626" text-anchor="end">-0.2</text>
<text x="187.05" y="252.5" font-size="6.6" fill="#262626" text-anchor="end">-0.1</text>
<text x="187.05" y="266.15" font-size="6.6" fill="#262626" text-anchor="end">0</text>
<text x="218.25" y="290.3" font-size="7.7" fill="#262626" text-anchor="middle">x(m)</text>
<text x="173.1" y="240.55" font-size="7.7" fill="#262626" text-anchor="middle" transform="rotate(-90 173.1 240.55)">z(m)</text>
<rect x="263.3" y="208.3" width="6.5" height="63.1" fill="url(#cbg)" stroke="#4d4d4d" stroke-width="0.6"/>
<path d="M269.8 239.85h-1.3" stroke="#4d4d4d" stroke-width="0.6"/>
<text x="272.1" y="211.1" font-size="6.6" fill="#262626" text-anchor="start">100</text>
<text x="272.1" y="242.65" font-size="6.6" fill="#262626" text-anchor="start">50</text>
<text x="272.1" y="274.2" font-size="6.6" fill="#262626" text-anchor="start">0</text>
<path d="M317.9 208.3V271.4H375.1" stroke="#4d4d4d" stroke-width="0.9" fill="none"/>
<path d="M317.9 271.4v-1.2M375.1 271.4v-1.2M317.9 208.7h1.2M317.9 229.53h1.2M317.9 250.37h1.2M317.9 271.2h1.2" stroke="#4d4d4d" stroke-width="0.6" fill="none"/>
<text x="317.9" y="278.3" font-size="6.6" fill="#262626" text-anchor="middle">0</text>
<text x="375.1" y="278.3" font-size="6.6" fill="#262626" text-anchor="middle">0.5</text>
<text x="315.5" y="211.45" font-size="6.6" fill="#262626" text-anchor="end">-0.4</text>
<text x="315.5" y="232.28" font-size="6.6" fill="#262626" text-anchor="end">-0.2</text>
<text x="315.5" y="253.12" font-size="6.6" fill="#262626" text-anchor="end">0</text>
<text x="315.5" y="273.95" font-size="6.6" fill="#262626" text-anchor="end">0.2</text>
<text x="346.7" y="290.3" font-size="7.7" fill="#262626" text-anchor="middle">x(m)</text>
<text x="302" y="240.55" font-size="7.7" fill="#262626" text-anchor="middle" transform="rotate(-90 302 240.55)">z(m)</text>
<rect x="391.8" y="208.3" width="6.5" height="63.1" fill="url(#cbg)" stroke="#4d4d4d" stroke-width="0.6"/>
<path d="M398.3 239.85h-1.3" stroke="#4d4d4d" stroke-width="0.6"/>
<text x="400.6" y="211.1" font-size="6.6" fill="#262626" text-anchor="start">100</text>
<text x="400.6" y="242.65" font-size="6.6" fill="#262626" text-anchor="start">50</text>
<text x="400.6" y="274.2" font-size="6.6" fill="#262626" text-anchor="start">0</text>
<path d="M446.5 208.3V271.4H503.7" stroke="#4d4d4d" stroke-width="0.9" fill="none"/>
<path d="M446.7 271.4v-1.2M472.85 271.4v-1.2M499 271.4v-1.2M446.5 218h1.2M446.5 231.3h1.2M446.5 244.6h1.2M446.5 257.9h1.2M446.5 271.2h1.2" stroke="#4d4d4d" stroke-width="0.6" fill="none"/>
<text x="446.7" y="278.3" font-size="6.6" fill="#262626" text-anchor="middle">0.2</text>
<text x="472.85" y="278.3" font-size="6.6" fill="#262626" text-anchor="middle">0.4</text>
<text x="499" y="278.3" font-size="6.6" fill="#262626" text-anchor="middle">0.6</text>
<text x="444.1" y="220.75" font-size="6.6" fill="#262626" text-anchor="end">-0.4</text>
<text x="444.1" y="234.05" font-size="6.6" fill="#262626" text-anchor="end">-0.3</text>
<text x="444.1" y="247.35" font-size="6.6" fill="#262626" text-anchor="end">-0.2</text>
<text x="444.1" y="260.65" font-size="6.6" fill="#262626" text-anchor="end">-0.1</text>
<text x="444.1" y="273.95" font-size="6.6" fill="#262626" text-anchor="end">0</text>
<text x="475.3" y="290.3" font-size="7.7" fill="#262626" text-anchor="middle">x(m)</text>
<text x="431.1" y="240.55" font-size="7.7" fill="#262626" text-anchor="middle" transform="rotate(-90 431.1 240.55)">z(m)</text>
<rect x="520.1" y="208.3" width="6.5" height="63.1" fill="url(#cbg)" stroke="#4d4d4d" stroke-width="0.6"/>
<path d="M526.6 239.85h-1.3" stroke="#4d4d4d" stroke-width="0.6"/>
<text x="528.9" y="211.1" font-size="6.6" fill="#262626" text-anchor="start">100</text>
<text x="528.9" y="242.65" font-size="6.6" fill="#262626" text-anchor="start">50</text>
<text x="528.9" y="274.2" font-size="6.6" fill="#262626" text-anchor="start">0</text>
<text x="13.4" y="51.6" font-size="7.2" fill="#000" text-anchor="start" stroke="#000" stroke-width="0.06">N</text>
<text x="13.4" y="145.3" font-size="7.2" fill="#000" text-anchor="start" stroke="#000" stroke-width="0.06">MC</text>
<text x="13.4" y="238.7" font-size="7.2" fill="#000" text-anchor="start" stroke="#000" stroke-width="0.06">SC</text>
</g>
</svg>
</body></html>
